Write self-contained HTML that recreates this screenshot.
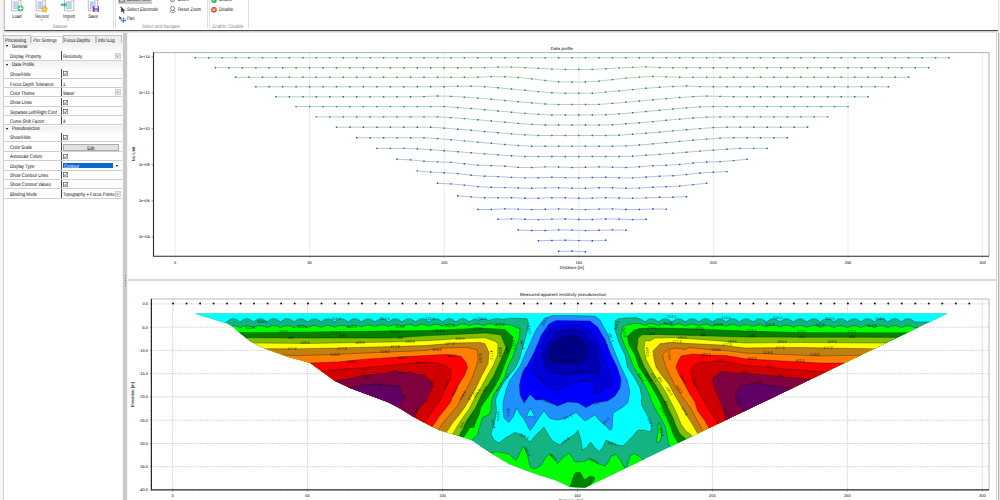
<!DOCTYPE html>
<html lang="en"><head><meta charset="utf-8"><title>Resistivity plot settings</title>
<style>
html,body{margin:0;padding:0;}
body{width:1000px;height:500px;overflow:hidden;position:relative;background:#f5f5f5;
 font-family:"Liberation Sans",sans-serif;color:#0a0a0a;text-rendering:geometricPrecision;}
.abs{position:absolute;}
#ribbon{position:absolute;left:3.5px;top:-2px;width:994px;height:33.2px;background:#fff;
 border-left:.6px solid #c6c6c6;border-bottom:1.4px solid #4e4e4e;box-sizing:border-box;
 box-shadow:0 1px 1.8px rgba(0,0,0,.22);}
.gsep{position:absolute;top:0;width:.7px;height:29.5px;background:#e2e2e2;}
.glabel{position:absolute;top:23.6px;height:6px;line-height:6px;font-size:5.2px;color:#8a8a8a;
 text-align:center;white-space:nowrap;transform:scaleX(.82);transform-origin:50% 50%;}
.blabel{position:absolute;font-size:5.2px;line-height:6px;height:6px;color:#151515;white-space:nowrap;
 transform:scaleX(.82);transform-origin:0 50%;}
.big{text-align:center;width:30px;transform-origin:50% 50%;}
#left{position:absolute;left:3.2px;top:33px;width:119.3px;height:470px;background:#fff;
 border-left:.6px solid #cfcfcf;box-sizing:border-box;}
.tab{position:absolute;top:35.4px;height:7.2px;box-sizing:border-box;border:.6px solid #c2c2c2;
 border-bottom:none;background:#eeeeee;font-size:5.2px;line-height:8.8px;padding-left:.9px;
 white-space:nowrap;overflow:hidden;color:#0a0a0a;}
.tab.act{background:#fff;border-color:#d0d0d0;top:35.8px;}
.tab span{position:absolute;left:.9px;line-height:6px;height:6px;transform:scaleX(.82);transform-origin:0 50%;}
.hdr{position:absolute;left:3.8px;width:118.4px;background:linear-gradient(#f1f1f1,#fbfbfb);
 font-size:5.2px;line-height:7px;color:#0a0a0a;white-space:nowrap;}
.hdr i{position:absolute;left:2.4px;top:2.3px;width:0;height:0;border-left:1.8px solid transparent;
 border-right:1.8px solid transparent;border-top:2.5px solid #000;}
.hdr span{position:absolute;left:8.4px;top:0;line-height:6px;height:6px;transform:scaleX(.82);transform-origin:0 50%;}
.row{position:absolute;left:3.8px;width:118.4px;box-sizing:border-box;border-bottom:.6px solid #cfcfcf;
 font-size:5.2px;color:#0a0a0a;white-space:nowrap;}
.row .k{position:absolute;left:6.4px;top:0;line-height:6px;height:6px;transform:scaleX(.82);transform-origin:0 50%;}
.row .v{position:absolute;left:58.8px;top:0;line-height:6px;height:6px;transform:scaleX(.82);transform-origin:0 50%;}
.row .d{position:absolute;left:57.1px;top:0;width:.6px;height:100%;background:#4a4a4a;}
.cb{position:absolute;left:59.3px;width:5.2px;height:5.2px;}
.cb svg{position:absolute;left:0;top:0;display:block;}
.dd{position:absolute;left:111.2px;width:5.6px;height:6.2px;}
.dd svg{position:absolute;left:0;top:0;display:block;}
#vsplit{position:absolute;left:123.4px;top:33px;width:4.1px;height:470px;background:#c9c9c9;}
#plots{position:absolute;left:127.5px;top:32.6px;width:868.8px;height:470px;background:#fff;}
#hsplit{position:absolute;left:127.5px;top:279.1px;width:868.8px;height:1.6px;background:#d6d6d6;}
#rstrip{position:absolute;left:996.2px;top:32.6px;width:3.5px;height:470px;background:linear-gradient(90deg,#d4d4d4 0 .6px,#fff .6px 1.6px,#b2b2b2 1.6px 3.4px,#e6e6e6 3.4px);}
svg text{font-family:"Liberation Sans",sans-serif;text-rendering:geometricPrecision;}
#app{position:absolute;left:0;top:0;width:1000px;height:500px;overflow:hidden;}
</style></head><body><div id="app">
<div id="ribbon">
<div class="gsep" style="left:108.9px"></div>
<div class="gsep" style="left:110.9px"></div>
<div class="gsep" style="left:202.4px"></div>
<div class="gsep" style="left:204.4px"></div>
<div class="gsep" style="left:243.4px"></div>
<div class="blabel big" style="left:-2.1px;top:16.2px">Load</div>
<div class="blabel big" style="left:22.4px;top:16.2px">Recent</div>
<div class="blabel big" style="left:49.9px;top:16.2px">Import</div>
<div class="blabel big" style="left:73.4px;top:16.2px">Save</div>
<div class="glabel" style="left:40.4px;width:30px;top:26.2px">Dataset</div>
<div class="glabel" style="left:131.9px;width:50px;top:26.2px">Select and Navigate</div>
<div class="glabel" style="left:203.9px;width:40px;top:26.2px">Enable / Disable</div>
<div class="abs" style="left:113.9px;top:0;width:34px;height:5.9px;background:#c9c9c9"></div>
<div class="blabel" style="left:122.3px;top:-0.8px">Select Point</div>
<div class="blabel" style="left:122.3px;top:9.2px">Select Electrode</div>
<div class="blabel" style="left:122.4px;top:18.2px">Pan</div>
<div class="blabel" style="left:173.4px;top:-0.8px">Zoom</div>
<div class="blabel" style="left:173.4px;top:9.2px">Reset Zoom</div>
<div class="blabel" style="left:214.9px;top:-0.8px">Enable</div>
<div class="blabel" style="left:214.9px;top:9.2px">Disable</div>
</div>
<svg class="abs" style="left:0;top:0" width="260" height="31" viewBox="0 0 260 31">
<g transform="translate(11.4 0.2)"><path d="M0.3 -3 H6.6 L9.6 0 V10.6 H0.3 Z" fill="#fdfdfd" stroke="#8a8a8a" stroke-width=".55"/><path d="M6.6 -3 V0 H9.6" fill="none" stroke="#8a8a8a" stroke-width=".5"/><rect x="1.9" y="1.2" width="5.6" height="7.6" fill="#a9c4ea"/><path d="M1.9 3.1H7.5M1.9 5H7.5M1.9 6.9H7.5M3.8 1.2V8.8M5.6 1.2V8.8" stroke="#dfe9f7" stroke-width=".45"/></g>
<circle cx="20.6" cy="8.4" r="2.9" fill="#27b868"/><path d="M20.6 6.3V10.5M18.5 8.4H22.7" stroke="#eafff2" stroke-width="1.2"/>
<g transform="translate(35.8 0.2)"><path d="M0.3 -3 H6.6 L9.6 0 V10.6 H0.3 Z" fill="#fdfdfd" stroke="#8a8a8a" stroke-width=".55"/><path d="M6.6 -3 V0 H9.6" fill="none" stroke="#8a8a8a" stroke-width=".5"/><rect x="1.9" y="1.2" width="5.6" height="7.6" fill="#a9c4ea"/><path d="M1.9 3.1H7.5M1.9 5H7.5M1.9 6.9H7.5M3.8 1.2V8.8M5.6 1.2V8.8" stroke="#dfe9f7" stroke-width=".45"/></g>
<path d="M44.6 5.9l.95 2 2.15.3-1.55 1.5.4 2.15-1.95-1.05-1.95 1.05.4-2.15-1.55-1.5 2.15-.3z" fill="#f5dc1c" stroke="#e2701e" stroke-width=".6"/>
<g transform="translate(64.2 0.2)"><path d="M0.3 -3 H6.6 L9.6 0 V10.6 H0.3 Z" fill="#fdfdfd" stroke="#8a8a8a" stroke-width=".55"/><path d="M6.6 -3 V0 H9.6" fill="none" stroke="#8a8a8a" stroke-width=".5"/><rect x="1.9" y="1.2" width="5.6" height="7.6" fill="#a9c4ea"/><path d="M1.9 3.1H7.5M1.9 5H7.5M1.9 6.9H7.5M3.8 1.2V8.8M5.6 1.2V8.8" stroke="#dfe9f7" stroke-width=".45"/></g>
<path d="M60.8 3.8h3.4v-1.5l2.9 2.5-2.9 2.5v-1.5h-3.4z" fill="#2cc070"/>
<g transform="translate(88 0.2)"><path d="M0.3 -3 H6.6 L9.6 0 V10.6 H0.3 Z" fill="#fdfdfd" stroke="#8a8a8a" stroke-width=".55"/><path d="M6.6 -3 V0 H9.6" fill="none" stroke="#8a8a8a" stroke-width=".5"/><rect x="1.9" y="1.2" width="5.6" height="7.6" fill="#a9c4ea"/><path d="M1.9 3.1H7.5M1.9 5H7.5M1.9 6.9H7.5M3.8 1.2V8.8M5.6 1.2V8.8" stroke="#dfe9f7" stroke-width=".45"/></g>
<rect x="92.8" y="6.1" width="6.2" height="5.7" fill="#8a3fa6"/><rect x="94.4" y="6.2" width="3.4" height="2.2" fill="#f3eaf8"/><rect x="94.6" y="9.6" width="3" height="2.2" fill="#d9c4e6"/>
<path d="M40.4 19.4l1.1 1 1.1-1M66.6 19.4l1.1 1 1.1-1" fill="none" stroke="#555" stroke-width=".5"/>
<rect x="119.6" y="-2" width="4.6" height="4" fill="none" stroke="#444" stroke-width=".6"/>
<path d="M121 6.6l0 6 1.5-1.4 1.1 2.3 1-.5-1.1-2.2 2-.1z" fill="#484848"/><circle cx="120.6" cy="7.2" r=".75" fill="#4a8fe0"/>
<path d="M119.2 16l0 3.6 1-.8.7 1.4.6-.3-.7-1.4 1.3-.1z" fill="#444"/><path d="M123.6 17.6l1.3 1.4h-.8v.9h.9v-.8l1.4 1.3-1.4 1.3v-.8h-.9v.9h.8l-1.3 1.4-1.3-1.4h.8v-.9h-.9v.8l-1.4-1.3 1.4-1.3v.8h.9v-.9h-.8z" fill="#3d7fd6"/>
<circle cx="172.3" cy="-.2" r="2.2" fill="#fff" stroke="#555" stroke-width=".6"/><path d="M172.3 -1.4V1M171.1 -.2H173.5" stroke="#555" stroke-width=".5"/>
<circle cx="172.6" cy="8.4" r="2" fill="#fff" stroke="#444" stroke-width=".65"/><path d="M171.3 10.2l-1.5 2.2M173.9 10.2l1.5 2.2M171.4 12.3h2.6" stroke="#444" stroke-width=".65" fill="none"/>
<circle cx="214" cy=".2" r="2.7" fill="#2fae62"/><path d="M212.7 .1l.9 1 1.7-1.9" stroke="#fff" stroke-width=".7" fill="none"/>
<circle cx="214" cy="9.7" r="2.8" fill="#d8482a"/><path d="M212.7 8.4l2.6 2.6M215.3 8.4l-2.6 2.6" stroke="#fff" stroke-width=".9"/>
</svg>
<div id="left"></div>
<div class="tab" style="left:3.2px;width:28px"><span style="top:1.2px">Processing</span></div>
<div class="tab act" style="left:31.2px;width:31.4px"><span style="top:0.8px">Plot Settings</span></div>
<div class="tab" style="left:62.6px;width:33.6px"><span style="top:1.2px">Focus Depths</span></div>
<div class="tab" style="left:96.2px;width:26.2px"><span style="top:1.2px">Info \Log</span></div>
<div class="hdr" style="top:43px;height:8.2px"><i></i><span style="top:1.2px">General</span></div>
<div class="row" style="top:51.2px;height:10.2px"><span class="k" style="top:3px">Display Property</span><span class="d"></span><span class="v" style="top:3px">Resistivity</span><span class="dd" style="top:1.7px"><svg width="5.6" height="6.2" viewBox="0 0 5.6 6.2"><rect x=".3" y=".3" width="5" height="5.6" fill="#e9e9e9" stroke="#b0b0b0" stroke-width=".5"/><path d="M1.5 2.5l1.3 1.3 1.3-1.3" fill="none" stroke="#5c5c5c" stroke-width=".6"/></svg></span></div>
<div class="hdr" style="top:61.4px;height:7.6px"><i></i><span style="top:0.8px">Data Profile</span></div>
<div class="row" style="top:69px;height:9.9px"><span class="k" style="top:3.2px">Show/Hide</span><span class="d"></span><span class="cb" style="top:2.25px"><svg width="5.2" height="5.2" viewBox="0 0 5.2 5.2"><rect x=".35" y=".35" width="4.5" height="4.5" fill="#fff" stroke="#4c4c4c" stroke-width=".65"/><path d="M1.1 2.6l1.05 1.15 2-2.4" fill="none" stroke="#222" stroke-width=".7"/></svg></span></div>
<div class="row" style="top:78.9px;height:9.2px"><span class="k" style="top:3.3px">Focus Depth Tolerance</span><span class="d"></span><span class="v" style="top:3.3px">1</span></div>
<div class="row" style="top:88.1px;height:9.4px"><span class="k" style="top:3.1px">Color Theme</span><span class="d"></span><span class="v" style="top:3.1px">Water</span><span class="dd" style="top:1.3px"><svg width="5.6" height="6.2" viewBox="0 0 5.6 6.2"><rect x=".3" y=".3" width="5" height="5.6" fill="#e9e9e9" stroke="#b0b0b0" stroke-width=".5"/><path d="M1.5 2.5l1.3 1.3 1.3-1.3" fill="none" stroke="#5c5c5c" stroke-width=".6"/></svg></span></div>
<div class="row" style="top:97.5px;height:9.4px"><span class="k" style="top:2.7px">Show Lines</span><span class="d"></span><span class="cb" style="top:2px"><svg width="5.2" height="5.2" viewBox="0 0 5.2 5.2"><rect x=".35" y=".35" width="4.5" height="4.5" fill="#fff" stroke="#4c4c4c" stroke-width=".65"/><path d="M1.1 2.6l1.05 1.15 2-2.4" fill="none" stroke="#222" stroke-width=".7"/></svg></span></div>
<div class="row" style="top:106.9px;height:9.5px"><span class="k" style="top:3.3px">Separate Left/Right Conf</span><span class="d"></span><span class="cb" style="top:2.05px"><svg width="5.2" height="5.2" viewBox="0 0 5.2 5.2"><rect x=".35" y=".35" width="4.5" height="4.5" fill="#fff" stroke="#4c4c4c" stroke-width=".65"/><path d="M1.1 2.6l1.05 1.15 2-2.4" fill="none" stroke="#222" stroke-width=".7"/></svg></span></div>
<div class="row" style="top:116.4px;height:9.1px"><span class="k" style="top:2.8px">Curve Shift Factor</span><span class="d"></span><span class="v" style="top:2.8px">4</span></div>
<div class="hdr" style="top:125.5px;height:7.3px"><i></i><span style="top:0.7px">Pseudosection</span></div>
<div class="row" style="top:132.8px;height:9.6px"><span class="k" style="top:2.4px">Show/Hide</span><span class="d"></span><span class="cb" style="top:2.1px"><svg width="5.2" height="5.2" viewBox="0 0 5.2 5.2"><rect x=".35" y=".35" width="4.5" height="4.5" fill="#fff" stroke="#4c4c4c" stroke-width=".65"/><path d="M1.1 2.6l1.05 1.15 2-2.4" fill="none" stroke="#222" stroke-width=".7"/></svg></span></div>
<div class="row" style="top:142.4px;height:9.4px"><span class="k" style="top:2.8px">Color Scale</span><span class="d"></span><span class="abs" style="left:59.5px;top:1.6px;width:55.7px;height:6.6px;box-sizing:border-box;border:.5px solid #adadad;background:#e1e1e1;text-align:center"><span style="position:absolute;left:0;width:100%;top:0.7px;line-height:6px;height:6px;transform:scaleX(.82)">Edit</span></span></div>
<div class="row" style="top:151.8px;height:9.5px"><span class="k" style="top:2.4px">Autoscale Colors</span><span class="d"></span><span class="cb" style="top:2.05px"><svg width="5.2" height="5.2" viewBox="0 0 5.2 5.2"><rect x=".35" y=".35" width="4.5" height="4.5" fill="#fff" stroke="#4c4c4c" stroke-width=".65"/><path d="M1.1 2.6l1.05 1.15 2-2.4" fill="none" stroke="#222" stroke-width=".7"/></svg></span></div>
<div class="row" style="top:161.3px;height:9.3px"><span class="k" style="top:2.9px">Display Type</span><span class="d"></span><span class="abs" style="left:59.5px;top:1.7px;width:49.8px;height:5.4px;background:#0b66d8;color:#fff"><span style="position:absolute;left:1.2px;top:1.2px;line-height:6px;height:6px;transform:scaleX(.82);transform-origin:0 50%">Contour</span></span><span class="abs" style="left:112.2px;top:3.3px;width:0;height:0;border-left:1.7px solid transparent;border-right:1.7px solid transparent;border-top:2.2px solid #000"></span></div>
<div class="row" style="top:170.6px;height:9.2px"><span class="k" style="top:2.6px">Show Contour Lines</span><span class="d"></span><span class="cb" style="top:1.9px"><svg width="5.2" height="5.2" viewBox="0 0 5.2 5.2"><rect x=".35" y=".35" width="4.5" height="4.5" fill="#fff" stroke="#4c4c4c" stroke-width=".65"/><path d="M1.1 2.6l1.05 1.15 2-2.4" fill="none" stroke="#222" stroke-width=".7"/></svg></span></div>
<div class="row" style="top:179.8px;height:9.4px"><span class="k" style="top:2.4px">Show Contour Values</span><span class="d"></span><span class="cb" style="top:2px"><svg width="5.2" height="5.2" viewBox="0 0 5.2 5.2"><rect x=".35" y=".35" width="4.5" height="4.5" fill="#fff" stroke="#4c4c4c" stroke-width=".65"/><path d="M1.1 2.6l1.05 1.15 2-2.4" fill="none" stroke="#222" stroke-width=".7"/></svg></span></div>
<div class="row" style="top:189.2px;height:9.5px"><span class="k" style="top:3px">Blinding Mode</span><span class="d"></span><span class="v" style="top:3px">Topography + Focus Points</span><span class="dd" style="top:1.35px"><svg width="5.6" height="6.2" viewBox="0 0 5.6 6.2"><rect x=".3" y=".3" width="5" height="5.6" fill="#e9e9e9" stroke="#b0b0b0" stroke-width=".5"/><path d="M1.5 2.5l1.3 1.3 1.3-1.3" fill="none" stroke="#5c5c5c" stroke-width=".6"/></svg></span></div>
<div id="vsplit"></div>
<div class="abs" style="left:124.9px;top:275px;width:1px;height:13px;background:repeating-linear-gradient(#8a8a8a 0 1px,transparent 1px 2.6px)"></div>
<div id="plots"></div><div id="hsplit"></div><div id="rstrip"></div>
<svg class="abs" style="left:0;top:0" width="1000" height="500" viewBox="0 0 1000 500">
<line x1="175" y1="52.6" x2="175" y2="256.2" stroke="#e3e3e3" stroke-width=".7"/>
<line x1="309.6" y1="52.6" x2="309.6" y2="256.2" stroke="#e3e3e3" stroke-width=".7"/>
<line x1="444.2" y1="52.6" x2="444.2" y2="256.2" stroke="#e3e3e3" stroke-width=".7"/>
<line x1="578.8" y1="52.6" x2="578.8" y2="256.2" stroke="#e3e3e3" stroke-width=".7"/>
<line x1="713.4" y1="52.6" x2="713.4" y2="256.2" stroke="#e3e3e3" stroke-width=".7"/>
<line x1="848" y1="52.6" x2="848" y2="256.2" stroke="#e3e3e3" stroke-width=".7"/>
<line x1="982.6" y1="52.6" x2="982.6" y2="256.2" stroke="#e3e3e3" stroke-width=".7"/>
<polyline points="195.2,57.7 208.7,57.7 222.1,57.7 235.6,57.7 249.0,57.7 262.5,57.7 275.9,57.7 289.4,57.7 302.9,57.7 316.3,57.7 329.8,57.7 343.2,57.7 356.7,57.7 370.2,57.7 383.6,57.7 397.1,57.7 410.6,57.7 424.0,57.7 437.5,57.7 450.9,57.7 464.4,57.7 477.9,57.7 491.3,57.7 504.8,57.7 518.2,57.7 531.7,57.7 545.2,57.7 558.6,57.7 572.1,57.7 585.5,57.7 599.0,57.7 612.5,57.7 625.9,57.7 639.4,57.7 652.8,57.7 666.3,57.7 679.8,57.7 693.2,57.7 706.7,57.7 720.1,57.7 733.6,57.7 747.1,57.7 760.5,57.7 774.0,57.7 787.4,57.7 800.9,57.7 814.4,57.7 827.8,57.7 841.3,57.7 854.7,57.7 868.2,57.7 881.7,57.7 895.1,57.7 908.6,57.7 922.0,57.7 935.5,57.7 949.0,57.7" fill="none" stroke="#3aa042" stroke-width=".65" stroke-opacity=".6"/>
<path d="M194.5 57.0h1.4v1.4h-1.4zM208.0 57.0h1.4v1.4h-1.4zM221.4 57.0h1.4v1.4h-1.4zM234.9 57.0h1.4v1.4h-1.4zM248.3 57.0h1.4v1.4h-1.4zM261.8 57.0h1.4v1.4h-1.4zM275.2 57.0h1.4v1.4h-1.4zM288.7 57.0h1.4v1.4h-1.4zM302.2 57.0h1.4v1.4h-1.4zM315.6 57.0h1.4v1.4h-1.4zM329.1 57.0h1.4v1.4h-1.4zM342.6 57.0h1.4v1.4h-1.4zM356.0 57.0h1.4v1.4h-1.4zM369.5 57.0h1.4v1.4h-1.4zM382.9 57.0h1.4v1.4h-1.4zM396.4 57.0h1.4v1.4h-1.4zM409.9 57.0h1.4v1.4h-1.4zM423.3 57.0h1.4v1.4h-1.4zM436.8 57.0h1.4v1.4h-1.4zM450.2 57.0h1.4v1.4h-1.4zM463.7 57.0h1.4v1.4h-1.4zM477.2 57.0h1.4v1.4h-1.4zM490.6 57.0h1.4v1.4h-1.4zM504.1 57.0h1.4v1.4h-1.4zM517.5 57.0h1.4v1.4h-1.4zM531.0 57.0h1.4v1.4h-1.4zM544.5 57.0h1.4v1.4h-1.4zM557.9 57.0h1.4v1.4h-1.4zM571.4 57.0h1.4v1.4h-1.4zM584.8 57.0h1.4v1.4h-1.4zM598.3 57.0h1.4v1.4h-1.4zM611.8 57.0h1.4v1.4h-1.4zM625.2 57.0h1.4v1.4h-1.4zM638.7 57.0h1.4v1.4h-1.4zM652.1 57.0h1.4v1.4h-1.4zM665.6 57.0h1.4v1.4h-1.4zM679.0 57.0h1.4v1.4h-1.4zM692.5 57.0h1.4v1.4h-1.4zM706.0 57.0h1.4v1.4h-1.4zM719.4 57.0h1.4v1.4h-1.4zM732.9 57.0h1.4v1.4h-1.4zM746.4 57.0h1.4v1.4h-1.4zM759.8 57.0h1.4v1.4h-1.4zM773.3 57.0h1.4v1.4h-1.4zM786.7 57.0h1.4v1.4h-1.4zM800.2 57.0h1.4v1.4h-1.4zM813.6 57.0h1.4v1.4h-1.4zM827.1 57.0h1.4v1.4h-1.4zM840.6 57.0h1.4v1.4h-1.4zM854.0 57.0h1.4v1.4h-1.4zM867.5 57.0h1.4v1.4h-1.4zM881.0 57.0h1.4v1.4h-1.4zM894.4 57.0h1.4v1.4h-1.4zM907.9 57.0h1.4v1.4h-1.4zM921.3 57.0h1.4v1.4h-1.4zM934.8 57.0h1.4v1.4h-1.4zM948.2 57.0h1.4v1.4h-1.4z" fill="#2f8336"/>
<polyline points="215.4,67.7 228.8,67.7 242.3,67.7 255.8,67.7 269.2,67.7 282.7,67.7 296.1,67.7 309.6,67.7 323.1,67.7 336.5,67.7 350.0,67.7 363.4,67.7 376.9,67.7 390.4,67.7 403.8,67.7 417.3,67.7 430.7,67.7 444.2,67.7 457.7,67.7 471.1,67.7 484.6,67.6 498.0,67.1 511.5,67.1 525.0,67.6 538.4,68.3 551.9,69.1 565.3,69.5 578.8,69.5 592.3,69.4 605.7,68.7 619.2,67.9 632.6,67.4 646.1,66.9 659.6,67.5 673.0,67.7 686.5,67.7 699.9,67.7 713.4,67.7 726.9,67.7 740.3,67.7 753.8,67.7 767.2,67.7 780.7,67.7 794.2,67.7 807.6,67.7 821.1,67.7 834.5,67.7 848.0,67.7 861.5,67.7 874.9,67.7 888.4,67.7 901.8,67.7 915.3,67.7 928.8,67.7" fill="none" stroke="#399b4b" stroke-width=".65" stroke-opacity=".6"/>
<path d="M214.7 67.0h1.4v1.4h-1.4zM228.1 67.0h1.4v1.4h-1.4zM241.6 67.0h1.4v1.4h-1.4zM255.1 67.0h1.4v1.4h-1.4zM268.5 67.0h1.4v1.4h-1.4zM282.0 67.0h1.4v1.4h-1.4zM295.4 67.0h1.4v1.4h-1.4zM308.9 67.0h1.4v1.4h-1.4zM322.4 67.0h1.4v1.4h-1.4zM335.8 67.0h1.4v1.4h-1.4zM349.3 67.0h1.4v1.4h-1.4zM362.7 67.0h1.4v1.4h-1.4zM376.2 67.0h1.4v1.4h-1.4zM389.7 67.0h1.4v1.4h-1.4zM403.1 67.0h1.4v1.4h-1.4zM416.6 67.0h1.4v1.4h-1.4zM430.0 67.0h1.4v1.4h-1.4zM443.5 67.0h1.4v1.4h-1.4zM457.0 67.0h1.4v1.4h-1.4zM470.4 67.0h1.4v1.4h-1.4zM483.9 66.9h1.4v1.4h-1.4zM497.3 66.4h1.4v1.4h-1.4zM510.8 66.4h1.4v1.4h-1.4zM524.3 66.9h1.4v1.4h-1.4zM537.7 67.6h1.4v1.4h-1.4zM551.2 68.4h1.4v1.4h-1.4zM564.6 68.8h1.4v1.4h-1.4zM578.1 68.8h1.4v1.4h-1.4zM591.6 68.7h1.4v1.4h-1.4zM605.0 68.0h1.4v1.4h-1.4zM618.5 67.2h1.4v1.4h-1.4zM631.9 66.7h1.4v1.4h-1.4zM645.4 66.2h1.4v1.4h-1.4zM658.9 66.8h1.4v1.4h-1.4zM672.3 67.0h1.4v1.4h-1.4zM685.8 67.0h1.4v1.4h-1.4zM699.2 67.0h1.4v1.4h-1.4zM712.7 67.0h1.4v1.4h-1.4zM726.2 67.0h1.4v1.4h-1.4zM739.6 67.0h1.4v1.4h-1.4zM753.1 67.0h1.4v1.4h-1.4zM766.5 67.0h1.4v1.4h-1.4zM780.0 67.0h1.4v1.4h-1.4zM793.5 67.0h1.4v1.4h-1.4zM806.9 67.0h1.4v1.4h-1.4zM820.4 67.0h1.4v1.4h-1.4zM833.8 67.0h1.4v1.4h-1.4zM847.3 67.0h1.4v1.4h-1.4zM860.8 67.0h1.4v1.4h-1.4zM874.2 67.0h1.4v1.4h-1.4zM887.7 67.0h1.4v1.4h-1.4zM901.1 67.0h1.4v1.4h-1.4zM914.6 67.0h1.4v1.4h-1.4zM928.1 67.0h1.4v1.4h-1.4z" fill="#2e7f3d"/>
<polyline points="235.6,77.3 249.0,77.3 262.5,77.3 275.9,77.3 289.4,77.3 302.9,77.3 316.3,77.3 329.8,77.3 343.2,77.3 356.7,77.3 370.2,77.3 383.6,77.3 397.1,77.3 410.6,77.3 424.0,77.3 437.5,77.3 450.9,77.3 464.4,77.3 477.9,77.2 491.3,76.6 504.8,76.8 518.2,77.5 531.7,78.9 545.2,80.5 558.6,81.8 572.1,82.0 585.5,82.0 599.0,81.1 612.5,79.6 625.9,78.1 639.4,77.1 652.8,76.5 666.3,76.9 679.8,77.3 693.2,77.3 706.7,77.3 720.1,77.3 733.6,77.3 747.1,77.3 760.5,77.3 774.0,77.3 787.4,77.3 800.9,77.3 814.4,77.3 827.8,77.3 841.3,77.3 854.7,77.3 868.2,77.3 881.7,77.3 895.1,77.3 908.6,77.3" fill="none" stroke="#389654" stroke-width=".65" stroke-opacity=".6"/>
<path d="M234.9 76.6h1.4v1.4h-1.4zM248.3 76.6h1.4v1.4h-1.4zM261.8 76.6h1.4v1.4h-1.4zM275.2 76.6h1.4v1.4h-1.4zM288.7 76.6h1.4v1.4h-1.4zM302.2 76.6h1.4v1.4h-1.4zM315.6 76.6h1.4v1.4h-1.4zM329.1 76.6h1.4v1.4h-1.4zM342.6 76.6h1.4v1.4h-1.4zM356.0 76.6h1.4v1.4h-1.4zM369.5 76.6h1.4v1.4h-1.4zM382.9 76.6h1.4v1.4h-1.4zM396.4 76.6h1.4v1.4h-1.4zM409.9 76.6h1.4v1.4h-1.4zM423.3 76.6h1.4v1.4h-1.4zM436.8 76.6h1.4v1.4h-1.4zM450.2 76.6h1.4v1.4h-1.4zM463.7 76.6h1.4v1.4h-1.4zM477.2 76.5h1.4v1.4h-1.4zM490.6 75.9h1.4v1.4h-1.4zM504.1 76.1h1.4v1.4h-1.4zM517.5 76.8h1.4v1.4h-1.4zM531.0 78.2h1.4v1.4h-1.4zM544.5 79.8h1.4v1.4h-1.4zM557.9 81.1h1.4v1.4h-1.4zM571.4 81.3h1.4v1.4h-1.4zM584.8 81.3h1.4v1.4h-1.4zM598.3 80.4h1.4v1.4h-1.4zM611.8 78.9h1.4v1.4h-1.4zM625.2 77.4h1.4v1.4h-1.4zM638.7 76.4h1.4v1.4h-1.4zM652.1 75.8h1.4v1.4h-1.4zM665.6 76.2h1.4v1.4h-1.4zM679.0 76.6h1.4v1.4h-1.4zM692.5 76.6h1.4v1.4h-1.4zM706.0 76.6h1.4v1.4h-1.4zM719.4 76.6h1.4v1.4h-1.4zM732.9 76.6h1.4v1.4h-1.4zM746.4 76.6h1.4v1.4h-1.4zM759.8 76.6h1.4v1.4h-1.4zM773.3 76.6h1.4v1.4h-1.4zM786.7 76.6h1.4v1.4h-1.4zM800.2 76.6h1.4v1.4h-1.4zM813.6 76.6h1.4v1.4h-1.4zM827.1 76.6h1.4v1.4h-1.4zM840.6 76.6h1.4v1.4h-1.4zM854.0 76.6h1.4v1.4h-1.4zM867.5 76.6h1.4v1.4h-1.4zM881.0 76.6h1.4v1.4h-1.4zM894.4 76.6h1.4v1.4h-1.4zM907.9 76.6h1.4v1.4h-1.4z" fill="#2d7a44"/>
<polyline points="255.8,86.8 269.2,86.8 282.7,86.8 296.1,86.8 309.6,86.8 323.1,86.8 336.5,86.8 350.0,86.8 363.4,86.8 376.9,86.8 390.4,86.8 403.8,86.8 417.3,86.8 430.7,86.8 444.2,86.7 457.7,86.2 471.1,86.2 484.6,86.7 498.0,87.8 511.5,89.0 525.0,90.3 538.4,91.6 551.9,92.7 565.3,93.2 578.8,93.2 592.3,93.2 605.7,92.1 619.2,90.9 632.6,89.6 646.1,88.3 659.6,87.2 673.0,86.5 686.5,86.0 699.9,86.6 713.4,86.8 726.9,86.8 740.3,86.8 753.8,86.8 767.2,86.8 780.7,86.8 794.2,86.8 807.6,86.8 821.1,86.8 834.5,86.8 848.0,86.8 861.5,86.8 874.9,86.8 888.4,86.8" fill="none" stroke="#36915e" stroke-width=".65" stroke-opacity=".6"/>
<path d="M255.1 86.1h1.4v1.4h-1.4zM268.5 86.1h1.4v1.4h-1.4zM282.0 86.1h1.4v1.4h-1.4zM295.4 86.1h1.4v1.4h-1.4zM308.9 86.1h1.4v1.4h-1.4zM322.4 86.1h1.4v1.4h-1.4zM335.8 86.1h1.4v1.4h-1.4zM349.3 86.1h1.4v1.4h-1.4zM362.7 86.1h1.4v1.4h-1.4zM376.2 86.1h1.4v1.4h-1.4zM389.7 86.1h1.4v1.4h-1.4zM403.1 86.1h1.4v1.4h-1.4zM416.6 86.1h1.4v1.4h-1.4zM430.0 86.1h1.4v1.4h-1.4zM443.5 86.0h1.4v1.4h-1.4zM457.0 85.5h1.4v1.4h-1.4zM470.4 85.5h1.4v1.4h-1.4zM483.9 86.0h1.4v1.4h-1.4zM497.3 87.1h1.4v1.4h-1.4zM510.8 88.3h1.4v1.4h-1.4zM524.3 89.6h1.4v1.4h-1.4zM537.7 90.9h1.4v1.4h-1.4zM551.2 92.0h1.4v1.4h-1.4zM564.6 92.5h1.4v1.4h-1.4zM578.1 92.5h1.4v1.4h-1.4zM591.6 92.5h1.4v1.4h-1.4zM605.0 91.4h1.4v1.4h-1.4zM618.5 90.2h1.4v1.4h-1.4zM631.9 88.9h1.4v1.4h-1.4zM645.4 87.6h1.4v1.4h-1.4zM658.9 86.5h1.4v1.4h-1.4zM672.3 85.8h1.4v1.4h-1.4zM685.8 85.3h1.4v1.4h-1.4zM699.2 85.9h1.4v1.4h-1.4zM712.7 86.1h1.4v1.4h-1.4zM726.2 86.1h1.4v1.4h-1.4zM739.6 86.1h1.4v1.4h-1.4zM753.1 86.1h1.4v1.4h-1.4zM766.5 86.1h1.4v1.4h-1.4zM780.0 86.1h1.4v1.4h-1.4zM793.5 86.1h1.4v1.4h-1.4zM806.9 86.1h1.4v1.4h-1.4zM820.4 86.1h1.4v1.4h-1.4zM833.8 86.1h1.4v1.4h-1.4zM847.3 86.1h1.4v1.4h-1.4zM860.8 86.1h1.4v1.4h-1.4zM874.2 86.1h1.4v1.4h-1.4zM887.7 86.1h1.4v1.4h-1.4z" fill="#2c764d"/>
<polyline points="275.9,96.8 289.4,96.8 302.9,96.8 316.3,96.8 329.8,96.8 343.2,96.8 356.7,96.8 370.2,96.8 383.6,96.8 397.1,96.8 410.6,96.8 424.0,96.6 437.5,96.0 450.9,96.4 464.4,97.1 477.9,98.1 491.3,99.2 504.8,100.5 518.2,101.7 531.7,102.9 545.2,104.0 558.6,104.5 572.1,104.5 585.5,104.5 599.0,104.4 612.5,103.4 625.9,102.3 639.4,101.0 652.8,99.8 666.3,98.6 679.8,97.5 693.2,96.6 706.7,96.1 720.1,96.4 733.6,96.8 747.1,96.8 760.5,96.8 774.0,96.8 787.4,96.8 800.9,96.8 814.4,96.8 827.8,96.8 841.3,96.8 854.7,96.8 868.2,96.8" fill="none" stroke="#358c67" stroke-width=".65" stroke-opacity=".6"/>
<path d="M275.2 96.1h1.4v1.4h-1.4zM288.7 96.1h1.4v1.4h-1.4zM302.2 96.1h1.4v1.4h-1.4zM315.6 96.1h1.4v1.4h-1.4zM329.1 96.1h1.4v1.4h-1.4zM342.6 96.1h1.4v1.4h-1.4zM356.0 96.1h1.4v1.4h-1.4zM369.5 96.1h1.4v1.4h-1.4zM382.9 96.1h1.4v1.4h-1.4zM396.4 96.1h1.4v1.4h-1.4zM409.9 96.1h1.4v1.4h-1.4zM423.3 95.9h1.4v1.4h-1.4zM436.8 95.3h1.4v1.4h-1.4zM450.2 95.7h1.4v1.4h-1.4zM463.7 96.4h1.4v1.4h-1.4zM477.2 97.4h1.4v1.4h-1.4zM490.6 98.5h1.4v1.4h-1.4zM504.1 99.8h1.4v1.4h-1.4zM517.5 101.0h1.4v1.4h-1.4zM531.0 102.2h1.4v1.4h-1.4zM544.5 103.3h1.4v1.4h-1.4zM557.9 103.8h1.4v1.4h-1.4zM571.4 103.8h1.4v1.4h-1.4zM584.8 103.8h1.4v1.4h-1.4zM598.3 103.7h1.4v1.4h-1.4zM611.8 102.7h1.4v1.4h-1.4zM625.2 101.6h1.4v1.4h-1.4zM638.7 100.3h1.4v1.4h-1.4zM652.1 99.1h1.4v1.4h-1.4zM665.6 97.9h1.4v1.4h-1.4zM679.0 96.8h1.4v1.4h-1.4zM692.5 95.9h1.4v1.4h-1.4zM706.0 95.4h1.4v1.4h-1.4zM719.4 95.7h1.4v1.4h-1.4zM732.9 96.1h1.4v1.4h-1.4zM746.4 96.1h1.4v1.4h-1.4zM759.8 96.1h1.4v1.4h-1.4zM773.3 96.1h1.4v1.4h-1.4zM786.7 96.1h1.4v1.4h-1.4zM800.2 96.1h1.4v1.4h-1.4zM813.6 96.1h1.4v1.4h-1.4zM827.1 96.1h1.4v1.4h-1.4zM840.6 96.1h1.4v1.4h-1.4zM854.0 96.1h1.4v1.4h-1.4zM867.5 96.1h1.4v1.4h-1.4z" fill="#2b7254"/>
<polyline points="296.1,106.6 309.6,106.6 323.1,106.6 336.5,106.6 350.0,106.6 363.4,106.6 376.9,106.6 390.4,106.6 403.8,106.6 417.3,106.6 430.7,106.6 444.2,106.6 457.7,107.5 471.1,108.5 484.6,109.7 498.0,111.0 511.5,112.2 525.0,113.4 538.4,114.4 551.9,115.0 565.3,115.0 578.8,115.0 592.3,115.0 605.7,114.8 619.2,113.9 632.6,112.8 646.1,111.5 659.6,110.3 673.0,109.0 686.5,107.9 699.9,106.9 713.4,106.6 726.9,106.6 740.3,106.6 753.8,106.6 767.2,106.6 780.7,106.6 794.2,106.6 807.6,106.6 821.1,106.6 834.5,106.6 848.0,106.6" fill="none" stroke="#348870" stroke-width=".65" stroke-opacity=".6"/>
<path d="M295.4 105.9h1.4v1.4h-1.4zM308.9 105.9h1.4v1.4h-1.4zM322.4 105.9h1.4v1.4h-1.4zM335.8 105.9h1.4v1.4h-1.4zM349.3 105.9h1.4v1.4h-1.4zM362.7 105.9h1.4v1.4h-1.4zM376.2 105.9h1.4v1.4h-1.4zM389.7 105.9h1.4v1.4h-1.4zM403.1 105.9h1.4v1.4h-1.4zM416.6 105.9h1.4v1.4h-1.4zM430.0 105.9h1.4v1.4h-1.4zM443.5 105.9h1.4v1.4h-1.4zM457.0 106.8h1.4v1.4h-1.4zM470.4 107.8h1.4v1.4h-1.4zM483.9 109.0h1.4v1.4h-1.4zM497.3 110.3h1.4v1.4h-1.4zM510.8 111.5h1.4v1.4h-1.4zM524.3 112.7h1.4v1.4h-1.4zM537.7 113.7h1.4v1.4h-1.4zM551.2 114.3h1.4v1.4h-1.4zM564.6 114.3h1.4v1.4h-1.4zM578.1 114.3h1.4v1.4h-1.4zM591.6 114.3h1.4v1.4h-1.4zM605.0 114.1h1.4v1.4h-1.4zM618.5 113.2h1.4v1.4h-1.4zM631.9 112.1h1.4v1.4h-1.4zM645.4 110.8h1.4v1.4h-1.4zM658.9 109.6h1.4v1.4h-1.4zM672.3 108.3h1.4v1.4h-1.4zM685.8 107.2h1.4v1.4h-1.4zM699.2 106.2h1.4v1.4h-1.4zM712.7 105.9h1.4v1.4h-1.4zM726.2 105.9h1.4v1.4h-1.4zM739.6 105.9h1.4v1.4h-1.4zM753.1 105.9h1.4v1.4h-1.4zM766.5 105.9h1.4v1.4h-1.4zM780.0 105.9h1.4v1.4h-1.4zM793.5 105.9h1.4v1.4h-1.4zM806.9 105.9h1.4v1.4h-1.4zM820.4 105.9h1.4v1.4h-1.4zM833.8 105.9h1.4v1.4h-1.4zM847.3 105.9h1.4v1.4h-1.4z" fill="#2a6f5b"/>
<polyline points="316.3,116.9 329.8,116.9 343.2,116.9 356.7,116.9 370.2,116.9 383.6,116.9 397.1,116.9 410.6,116.9 424.0,116.9 437.5,116.9 450.9,117.6 464.4,118.6 477.9,119.8 491.3,121.0 504.8,122.2 518.2,123.4 531.7,124.4 545.2,125.0 558.6,125.0 572.1,125.0 585.5,125.0 599.0,125.0 612.5,124.8 625.9,123.8 639.4,122.8 652.8,121.6 666.3,120.3 679.8,119.1 693.2,118.0 706.7,117.1 720.1,116.9 733.6,116.9 747.1,116.9 760.5,116.9 774.0,116.9 787.4,116.9 800.9,116.9 814.4,116.9 827.8,116.9" fill="none" stroke="#338379" stroke-width=".65" stroke-opacity=".6"/>
<path d="M315.6 116.2h1.4v1.4h-1.4zM329.1 116.2h1.4v1.4h-1.4zM342.6 116.2h1.4v1.4h-1.4zM356.0 116.2h1.4v1.4h-1.4zM369.5 116.2h1.4v1.4h-1.4zM382.9 116.2h1.4v1.4h-1.4zM396.4 116.2h1.4v1.4h-1.4zM409.9 116.2h1.4v1.4h-1.4zM423.3 116.2h1.4v1.4h-1.4zM436.8 116.2h1.4v1.4h-1.4zM450.2 116.9h1.4v1.4h-1.4zM463.7 117.9h1.4v1.4h-1.4zM477.2 119.1h1.4v1.4h-1.4zM490.6 120.3h1.4v1.4h-1.4zM504.1 121.5h1.4v1.4h-1.4zM517.5 122.7h1.4v1.4h-1.4zM531.0 123.7h1.4v1.4h-1.4zM544.5 124.3h1.4v1.4h-1.4zM557.9 124.3h1.4v1.4h-1.4zM571.4 124.3h1.4v1.4h-1.4zM584.8 124.3h1.4v1.4h-1.4zM598.3 124.3h1.4v1.4h-1.4zM611.8 124.1h1.4v1.4h-1.4zM625.2 123.1h1.4v1.4h-1.4zM638.7 122.1h1.4v1.4h-1.4zM652.1 120.9h1.4v1.4h-1.4zM665.6 119.6h1.4v1.4h-1.4zM679.0 118.4h1.4v1.4h-1.4zM692.5 117.3h1.4v1.4h-1.4zM706.0 116.4h1.4v1.4h-1.4zM719.4 116.2h1.4v1.4h-1.4zM732.9 116.2h1.4v1.4h-1.4zM746.4 116.2h1.4v1.4h-1.4zM759.8 116.2h1.4v1.4h-1.4zM773.3 116.2h1.4v1.4h-1.4zM786.7 116.2h1.4v1.4h-1.4zM800.2 116.2h1.4v1.4h-1.4zM813.6 116.2h1.4v1.4h-1.4zM827.1 116.2h1.4v1.4h-1.4z" fill="#296b63"/>
<polyline points="336.5,127.2 350.0,127.2 363.4,127.2 376.9,127.2 390.4,127.2 403.8,127.2 417.3,127.2 430.7,127.2 444.2,128.1 457.7,129.2 471.1,130.3 484.6,131.5 498.0,132.7 511.5,133.9 525.0,134.9 538.4,135.5 551.9,135.5 565.3,135.5 578.8,135.5 592.3,135.5 605.7,135.5 619.2,135.2 632.6,134.3 646.1,133.2 659.6,132.1 673.0,130.9 686.5,129.7 699.9,128.6 713.4,127.6 726.9,127.2 740.3,127.2 753.8,127.2 767.2,127.2 780.7,127.2 794.2,127.2 807.6,127.2" fill="none" stroke="#317e83" stroke-width=".65" stroke-opacity=".6"/>
<path d="M335.8 126.5h1.4v1.4h-1.4zM349.3 126.5h1.4v1.4h-1.4zM362.7 126.5h1.4v1.4h-1.4zM376.2 126.5h1.4v1.4h-1.4zM389.7 126.5h1.4v1.4h-1.4zM403.1 126.5h1.4v1.4h-1.4zM416.6 126.5h1.4v1.4h-1.4zM430.0 126.5h1.4v1.4h-1.4zM443.5 127.4h1.4v1.4h-1.4zM457.0 128.5h1.4v1.4h-1.4zM470.4 129.6h1.4v1.4h-1.4zM483.9 130.8h1.4v1.4h-1.4zM497.3 132.0h1.4v1.4h-1.4zM510.8 133.2h1.4v1.4h-1.4zM524.3 134.2h1.4v1.4h-1.4zM537.7 134.8h1.4v1.4h-1.4zM551.2 134.8h1.4v1.4h-1.4zM564.6 134.8h1.4v1.4h-1.4zM578.1 134.8h1.4v1.4h-1.4zM591.6 134.8h1.4v1.4h-1.4zM605.0 134.8h1.4v1.4h-1.4zM618.5 134.5h1.4v1.4h-1.4zM631.9 133.6h1.4v1.4h-1.4zM645.4 132.5h1.4v1.4h-1.4zM658.9 131.4h1.4v1.4h-1.4zM672.3 130.2h1.4v1.4h-1.4zM685.8 129.0h1.4v1.4h-1.4zM699.2 127.9h1.4v1.4h-1.4zM712.7 126.9h1.4v1.4h-1.4zM726.2 126.5h1.4v1.4h-1.4zM739.6 126.5h1.4v1.4h-1.4zM753.1 126.5h1.4v1.4h-1.4zM766.5 126.5h1.4v1.4h-1.4zM780.0 126.5h1.4v1.4h-1.4zM793.5 126.5h1.4v1.4h-1.4zM806.9 126.5h1.4v1.4h-1.4z" fill="#28676b"/>
<polyline points="356.7,137.8 370.2,137.8 383.6,137.8 397.1,137.8 410.6,137.8 424.0,137.8 437.5,138.6 450.9,139.7 464.4,140.9 477.9,142.1 491.3,143.3 504.8,144.5 518.2,145.5 531.7,146.2 545.2,146.2 558.6,146.2 572.1,146.2 585.5,146.2 599.0,146.2 612.5,146.2 625.9,145.9 639.4,145.0 652.8,143.9 666.3,142.6 679.8,141.4 693.2,140.2 706.7,139.1 720.1,138.1 733.6,137.8 747.1,137.8 760.5,137.8 774.0,137.8 787.4,137.8" fill="none" stroke="#30798c" stroke-width=".65" stroke-opacity=".6"/>
<path d="M356.0 137.1h1.4v1.4h-1.4zM369.5 137.1h1.4v1.4h-1.4zM382.9 137.1h1.4v1.4h-1.4zM396.4 137.1h1.4v1.4h-1.4zM409.9 137.1h1.4v1.4h-1.4zM423.3 137.1h1.4v1.4h-1.4zM436.8 137.9h1.4v1.4h-1.4zM450.2 139.0h1.4v1.4h-1.4zM463.7 140.2h1.4v1.4h-1.4zM477.2 141.4h1.4v1.4h-1.4zM490.6 142.6h1.4v1.4h-1.4zM504.1 143.8h1.4v1.4h-1.4zM517.5 144.8h1.4v1.4h-1.4zM531.0 145.6h1.4v1.4h-1.4zM544.5 145.6h1.4v1.4h-1.4zM557.9 145.6h1.4v1.4h-1.4zM571.4 145.6h1.4v1.4h-1.4zM584.8 145.6h1.4v1.4h-1.4zM598.3 145.6h1.4v1.4h-1.4zM611.8 145.6h1.4v1.4h-1.4zM625.2 145.2h1.4v1.4h-1.4zM638.7 144.3h1.4v1.4h-1.4zM652.1 143.2h1.4v1.4h-1.4zM665.6 141.9h1.4v1.4h-1.4zM679.0 140.7h1.4v1.4h-1.4zM692.5 139.5h1.4v1.4h-1.4zM706.0 138.4h1.4v1.4h-1.4zM719.4 137.4h1.4v1.4h-1.4zM732.9 137.1h1.4v1.4h-1.4zM746.4 137.1h1.4v1.4h-1.4zM759.8 137.1h1.4v1.4h-1.4zM773.3 137.1h1.4v1.4h-1.4zM786.7 137.1h1.4v1.4h-1.4z" fill="#276372"/>
<polyline points="376.9,148.4 390.4,148.4 403.8,148.4 417.3,148.8 430.7,149.7 444.2,150.7 457.7,151.7 471.1,152.8 484.6,153.9 498.0,154.9 511.5,155.8 525.0,156.5 538.4,156.5 551.9,156.5 565.3,156.5 578.8,156.5 592.3,156.5 605.7,156.5 619.2,156.5 632.6,156.2 646.1,155.3 659.6,154.4 673.0,153.3 686.5,152.2 699.9,151.1 713.4,150.1 726.9,149.2 740.3,148.4 753.8,148.4 767.2,148.4" fill="none" stroke="#2f7495" stroke-width=".65" stroke-opacity=".6"/>
<path d="M376.2 147.7h1.4v1.4h-1.4zM389.7 147.7h1.4v1.4h-1.4zM403.1 147.7h1.4v1.4h-1.4zM416.6 148.1h1.4v1.4h-1.4zM430.0 149.0h1.4v1.4h-1.4zM443.5 150.0h1.4v1.4h-1.4zM457.0 151.0h1.4v1.4h-1.4zM470.4 152.1h1.4v1.4h-1.4zM483.9 153.2h1.4v1.4h-1.4zM497.3 154.2h1.4v1.4h-1.4zM510.8 155.1h1.4v1.4h-1.4zM524.3 155.8h1.4v1.4h-1.4zM537.7 155.8h1.4v1.4h-1.4zM551.2 155.8h1.4v1.4h-1.4zM564.6 155.8h1.4v1.4h-1.4zM578.1 155.8h1.4v1.4h-1.4zM591.6 155.8h1.4v1.4h-1.4zM605.0 155.8h1.4v1.4h-1.4zM618.5 155.8h1.4v1.4h-1.4zM631.9 155.5h1.4v1.4h-1.4zM645.4 154.6h1.4v1.4h-1.4zM658.9 153.7h1.4v1.4h-1.4zM672.3 152.6h1.4v1.4h-1.4zM685.8 151.5h1.4v1.4h-1.4zM699.2 150.4h1.4v1.4h-1.4zM712.7 149.4h1.4v1.4h-1.4zM726.2 148.5h1.4v1.4h-1.4zM739.6 147.7h1.4v1.4h-1.4zM753.1 147.7h1.4v1.4h-1.4zM766.5 147.7h1.4v1.4h-1.4z" fill="#265f7a"/>
<polyline points="397.1,159.2 410.6,159.9 424.0,161.2 437.5,161.9 450.9,162.4 464.4,163.8 477.9,165.1 491.3,165.6 504.8,166.2 518.2,167.4 531.7,167.5 545.2,166.9 558.6,167.0 572.1,167.5 585.5,167.3 599.0,166.9 612.5,167.2 625.9,167.5 639.4,166.8 652.8,165.8 666.3,165.3 679.8,164.5 693.2,163.0 706.7,162.0 720.1,161.6 733.6,160.6 747.1,159.3" fill="none" stroke="#2e6f9e" stroke-width=".65" stroke-opacity=".6"/>
<path d="M396.4 158.5h1.4v1.4h-1.4zM409.9 159.2h1.4v1.4h-1.4zM423.3 160.5h1.4v1.4h-1.4zM436.8 161.2h1.4v1.4h-1.4zM450.2 161.7h1.4v1.4h-1.4zM463.7 163.1h1.4v1.4h-1.4zM477.2 164.4h1.4v1.4h-1.4zM490.6 164.9h1.4v1.4h-1.4zM504.1 165.5h1.4v1.4h-1.4zM517.5 166.7h1.4v1.4h-1.4zM531.0 166.8h1.4v1.4h-1.4zM544.5 166.2h1.4v1.4h-1.4zM557.9 166.3h1.4v1.4h-1.4zM571.4 166.8h1.4v1.4h-1.4zM584.8 166.6h1.4v1.4h-1.4zM598.3 166.2h1.4v1.4h-1.4zM611.8 166.5h1.4v1.4h-1.4zM625.2 166.8h1.4v1.4h-1.4zM638.7 166.1h1.4v1.4h-1.4zM652.1 165.1h1.4v1.4h-1.4zM665.6 164.6h1.4v1.4h-1.4zM679.0 163.8h1.4v1.4h-1.4zM692.5 162.3h1.4v1.4h-1.4zM706.0 161.3h1.4v1.4h-1.4zM719.4 160.9h1.4v1.4h-1.4zM732.9 159.9h1.4v1.4h-1.4zM746.4 158.6h1.4v1.4h-1.4z" fill="#255b81"/>
<polyline points="417.3,170.9 430.7,172.1 444.2,172.7 457.7,173.6 471.1,175.2 484.6,176.2 498.0,176.6 511.5,177.4 525.0,177.9 538.4,177.7 551.9,177.3 565.3,177.6 578.8,177.9 592.3,177.5 605.7,177.3 619.2,177.8 632.6,177.9 646.1,177.0 659.6,176.2 673.0,175.7 686.5,174.5 699.9,173.0 713.4,172.2 726.9,171.6" fill="none" stroke="#2d6aa7" stroke-width=".65" stroke-opacity=".6"/>
<path d="M416.6 170.2h1.4v1.4h-1.4zM430.0 171.4h1.4v1.4h-1.4zM443.5 172.0h1.4v1.4h-1.4zM457.0 172.9h1.4v1.4h-1.4zM470.4 174.5h1.4v1.4h-1.4zM483.9 175.5h1.4v1.4h-1.4zM497.3 175.9h1.4v1.4h-1.4zM510.8 176.7h1.4v1.4h-1.4zM524.3 177.2h1.4v1.4h-1.4zM537.7 177.0h1.4v1.4h-1.4zM551.2 176.6h1.4v1.4h-1.4zM564.6 176.9h1.4v1.4h-1.4zM578.1 177.2h1.4v1.4h-1.4zM591.6 176.8h1.4v1.4h-1.4zM605.0 176.6h1.4v1.4h-1.4zM618.5 177.1h1.4v1.4h-1.4zM631.9 177.2h1.4v1.4h-1.4zM645.4 176.3h1.4v1.4h-1.4zM658.9 175.5h1.4v1.4h-1.4zM672.3 175.0h1.4v1.4h-1.4zM685.8 173.8h1.4v1.4h-1.4zM699.2 172.3h1.4v1.4h-1.4zM712.7 171.5h1.4v1.4h-1.4zM726.2 170.9h1.4v1.4h-1.4z" fill="#245688"/>
<polyline points="437.5,183.3 450.9,183.9 464.4,185.1 477.9,186.6 491.3,187.3 504.8,187.6 518.2,188.0 531.7,188.3 545.2,187.9 558.6,187.7 572.1,188.2 585.5,188.3 599.0,187.7 612.5,187.8 625.9,188.3 639.4,188.1 652.8,187.2 666.3,186.7 679.8,186.1 693.2,184.6 706.7,183.3" fill="none" stroke="#2b65b1" stroke-width=".65" stroke-opacity=".6"/>
<path d="M436.8 182.6h1.4v1.4h-1.4zM450.2 183.2h1.4v1.4h-1.4zM463.7 184.4h1.4v1.4h-1.4zM477.2 185.9h1.4v1.4h-1.4zM490.6 186.6h1.4v1.4h-1.4zM504.1 186.9h1.4v1.4h-1.4zM517.5 187.3h1.4v1.4h-1.4zM531.0 187.6h1.4v1.4h-1.4zM544.5 187.2h1.4v1.4h-1.4zM557.9 187.0h1.4v1.4h-1.4zM571.4 187.5h1.4v1.4h-1.4zM584.8 187.6h1.4v1.4h-1.4zM598.3 187.0h1.4v1.4h-1.4zM611.8 187.1h1.4v1.4h-1.4zM625.2 187.6h1.4v1.4h-1.4zM638.7 187.4h1.4v1.4h-1.4zM652.1 186.5h1.4v1.4h-1.4zM665.6 186.0h1.4v1.4h-1.4zM679.0 185.4h1.4v1.4h-1.4zM692.5 183.9h1.4v1.4h-1.4zM706.0 182.6h1.4v1.4h-1.4z" fill="#235291"/>
<polyline points="457.7,195.8 471.1,196.9 484.6,197.8 498.0,197.8 511.5,197.7 525.0,198.2 538.4,198.2 551.9,197.7 565.3,197.8 578.8,198.3 592.3,198.1 605.7,197.7 619.2,198.0 632.6,198.3 646.1,197.9 659.6,197.3 673.0,197.3 686.5,196.7" fill="none" stroke="#2a60ba" stroke-width=".65" stroke-opacity=".6"/>
<path d="M457.0 195.1h1.4v1.4h-1.4zM470.4 196.2h1.4v1.4h-1.4zM483.9 197.1h1.4v1.4h-1.4zM497.3 197.1h1.4v1.4h-1.4zM510.8 197.0h1.4v1.4h-1.4zM524.3 197.5h1.4v1.4h-1.4zM537.7 197.5h1.4v1.4h-1.4zM551.2 197.0h1.4v1.4h-1.4zM564.6 197.1h1.4v1.4h-1.4zM578.1 197.6h1.4v1.4h-1.4zM591.6 197.4h1.4v1.4h-1.4zM605.0 197.0h1.4v1.4h-1.4zM618.5 197.3h1.4v1.4h-1.4zM631.9 197.6h1.4v1.4h-1.4zM645.4 197.2h1.4v1.4h-1.4zM658.9 196.6h1.4v1.4h-1.4zM672.3 196.6h1.4v1.4h-1.4zM685.8 196.0h1.4v1.4h-1.4z" fill="#224e98"/>
<polyline points="477.9,209.5 491.3,209.5 504.8,208.9 518.2,209.1 531.7,209.6 545.2,209.3 558.6,208.9 572.1,209.3 585.5,209.6 599.0,209.1 612.5,208.9 625.9,209.5 639.4,209.5 652.8,209.0 666.3,209.1" fill="none" stroke="#295cc3" stroke-width=".65" stroke-opacity=".6"/>
<path d="M477.2 208.8h1.4v1.4h-1.4zM490.6 208.8h1.4v1.4h-1.4zM504.1 208.2h1.4v1.4h-1.4zM517.5 208.4h1.4v1.4h-1.4zM531.0 208.9h1.4v1.4h-1.4zM544.5 208.6h1.4v1.4h-1.4zM557.9 208.2h1.4v1.4h-1.4zM571.4 208.6h1.4v1.4h-1.4zM584.8 208.9h1.4v1.4h-1.4zM598.3 208.4h1.4v1.4h-1.4zM611.8 208.2h1.4v1.4h-1.4zM625.2 208.8h1.4v1.4h-1.4zM638.7 208.8h1.4v1.4h-1.4zM652.1 208.3h1.4v1.4h-1.4zM665.6 208.4h1.4v1.4h-1.4z" fill="#214b9f"/>
<polyline points="498.0,219.3 511.5,218.9 525.0,219.3 538.4,219.6 551.9,219.1 565.3,219.0 578.8,219.5 592.3,219.5 605.7,219.0 619.2,219.1 632.6,219.6 646.1,219.3" fill="none" stroke="#2857cc" stroke-width=".65" stroke-opacity=".6"/>
<path d="M497.3 218.6h1.4v1.4h-1.4zM510.8 218.2h1.4v1.4h-1.4zM524.3 218.6h1.4v1.4h-1.4zM537.7 218.9h1.4v1.4h-1.4zM551.2 218.4h1.4v1.4h-1.4zM564.6 218.3h1.4v1.4h-1.4zM578.1 218.8h1.4v1.4h-1.4zM591.6 218.8h1.4v1.4h-1.4zM605.0 218.3h1.4v1.4h-1.4zM618.5 218.4h1.4v1.4h-1.4zM631.9 218.9h1.4v1.4h-1.4zM645.4 218.6h1.4v1.4h-1.4z" fill="#2047a7"/>
<polyline points="518.2,230.0 531.7,230.5 545.2,230.5 558.6,229.9 572.1,230.1 585.5,230.6 599.0,230.3 612.5,229.9 625.9,230.3" fill="none" stroke="#2652d6" stroke-width=".65" stroke-opacity=".6"/>
<path d="M517.5 229.3h1.4v1.4h-1.4zM531.0 229.8h1.4v1.4h-1.4zM544.5 229.8h1.4v1.4h-1.4zM557.9 229.2h1.4v1.4h-1.4zM571.4 229.4h1.4v1.4h-1.4zM584.8 229.9h1.4v1.4h-1.4zM598.3 229.6h1.4v1.4h-1.4zM611.8 229.2h1.4v1.4h-1.4zM625.2 229.6h1.4v1.4h-1.4z" fill="#1f43af"/>
<polyline points="538.4,240.8 551.9,240.5 565.3,240.2 578.8,240.6 592.3,240.8 605.7,240.3" fill="none" stroke="#254ddf" stroke-width=".65" stroke-opacity=".6"/>
<path d="M537.7 240.1h1.4v1.4h-1.4zM551.2 239.8h1.4v1.4h-1.4zM564.6 239.5h1.4v1.4h-1.4zM578.1 239.9h1.4v1.4h-1.4zM591.6 240.1h1.4v1.4h-1.4zM605.0 239.6h1.4v1.4h-1.4z" fill="#1e3fb6"/>
<polyline points="558.6,251.3 572.1,251.2 585.5,251.8" fill="none" stroke="#2448e8" stroke-width=".65" stroke-opacity=".6"/>
<path d="M557.9 250.6h1.4v1.4h-1.4zM571.4 250.5h1.4v1.4h-1.4zM584.8 251.1h1.4v1.4h-1.4z" fill="#1d3bbe"/>
<path d="M153.5 52.6H989V256.2" fill="none" stroke="#9a9a9a" stroke-width=".8"/>
<path d="M153.5 52.3V256.2H989" fill="none" stroke="#2a2a2a" stroke-width="1.1"/>
<g font-size="4.6" fill="#000">
<text transform="translate(149.7 58.3)" text-anchor="end" font-size="3.95">1e+14</text>
<line x1="151.3" y1="56.9" x2="153" y2="56.9" stroke="#555" stroke-width=".5"/>
<text transform="translate(149.7 94.3)" text-anchor="end" font-size="3.95">1e+12</text>
<line x1="151.3" y1="92.9" x2="153" y2="92.9" stroke="#555" stroke-width=".5"/>
<text transform="translate(149.7 130.3)" text-anchor="end" font-size="3.95">1e+10</text>
<line x1="151.3" y1="128.9" x2="153" y2="128.9" stroke="#555" stroke-width=".5"/>
<text transform="translate(149.7 166.3)" text-anchor="end" font-size="3.95">1e+08</text>
<line x1="151.3" y1="164.9" x2="153" y2="164.9" stroke="#555" stroke-width=".5"/>
<text transform="translate(149.7 202.3)" text-anchor="end" font-size="3.95">1e+06</text>
<line x1="151.3" y1="200.9" x2="153" y2="200.9" stroke="#555" stroke-width=".5"/>
<text transform="translate(149.7 238.3)" text-anchor="end" font-size="3.95">1e+04</text>
<line x1="151.3" y1="236.9" x2="153" y2="236.9" stroke="#555" stroke-width=".5"/>
<text transform="translate(175 263.6)" text-anchor="middle" font-size="3.95">0</text>
<text transform="translate(309.6 263.6)" text-anchor="middle" font-size="3.95">50</text>
<text transform="translate(444.2 263.6)" text-anchor="middle" font-size="3.95">100</text>
<text transform="translate(578.8 263.6)" text-anchor="middle" font-size="3.95">150</text>
<text transform="translate(713.4 263.6)" text-anchor="middle" font-size="3.95">200</text>
<text transform="translate(848 263.6)" text-anchor="middle" font-size="3.95">250</text>
<text transform="translate(982.6 263.6)" text-anchor="middle" font-size="3.95">300</text>
<text transform="translate(571.8 269)" text-anchor="middle" font-size="4.35">Distance [m]</text>
<text transform="translate(561.9 49.5)" text-anchor="middle" font-size="4.35">Data profile</text>
<text transform="translate(134.8 154) rotate(-90)" text-anchor="middle" font-size="4.35">No Unit</text>
</g>
<path d="M161.5 256.2v1.2M175.0 256.2v2M188.5 256.2v1.2M201.9 256.2v1.2M215.4 256.2v1.2M228.8 256.2v1.2M242.3 256.2v1.2M255.8 256.2v1.2M269.2 256.2v1.2M282.7 256.2v1.2M296.1 256.2v1.2M309.6 256.2v2M323.1 256.2v1.2M336.5 256.2v1.2M350.0 256.2v1.2M363.4 256.2v1.2M376.9 256.2v1.2M390.4 256.2v1.2M403.8 256.2v1.2M417.3 256.2v1.2M430.7 256.2v1.2M444.2 256.2v2M457.7 256.2v1.2M471.1 256.2v1.2M484.6 256.2v1.2M498.0 256.2v1.2M511.5 256.2v1.2M525.0 256.2v1.2M538.4 256.2v1.2M551.9 256.2v1.2M565.3 256.2v1.2M578.8 256.2v2M592.3 256.2v1.2M605.7 256.2v1.2M619.2 256.2v1.2M632.6 256.2v1.2M646.1 256.2v1.2M659.6 256.2v1.2M673.0 256.2v1.2M686.5 256.2v1.2M699.9 256.2v1.2M713.4 256.2v2M726.9 256.2v1.2M740.3 256.2v1.2M753.8 256.2v1.2M767.2 256.2v1.2M780.7 256.2v1.2M794.2 256.2v1.2M807.6 256.2v1.2M821.1 256.2v1.2M834.5 256.2v1.2M848.0 256.2v2M861.5 256.2v1.2M874.9 256.2v1.2M888.4 256.2v1.2M901.8 256.2v1.2M915.3 256.2v1.2M928.8 256.2v1.2M942.2 256.2v1.2M955.7 256.2v1.2M969.1 256.2v1.2M982.6 256.2v2" stroke="#777" stroke-width=".45" fill="none"/>
<path d="M172.6 299V489.8M307.5 299V489.8M442.5 299V489.8M577.4 299V489.8M712.4 299V489.8M847.4 299V489.8M982.3 299V489.8M151.4 303.9H989M151.4 327.2H989M151.4 350.4H989M151.4 373.7H989M151.4 396.9H989M151.4 420.2H989M151.4 443.5H989M151.4 466.7H989" stroke="#a4a4a4" stroke-width=".6" stroke-dasharray=".9 .9" fill="none"/>
<defs><clipPath id="tri"><polygon points="194.4,313.6 227,323.4 233,327 241,334 250,341 259,346 270,350.6 290,357.4 300,360 310,363 322.5,372 335,381 350,388 370,395.6 387.5,402 397.5,407 413.75,417 432.5,427 440,430.6 456,435 471,440 490,452.5 509,464 527.5,471 538.75,475 555,480 570,487 585,487.75 947.5,313.6"/></clipPath></defs>
<g clip-path="url(#tri)">
<rect x="150" y="300" width="850" height="200" fill="#14b482"/>
<polygon points="150,300 1000,300 1000,322 914.82,322 914.82,322 913.82,321.24 912.82,320.51 911.82,319.87 910.81,319.35 909.81,318.96 908.81,318.75 907.8,318.71 906.8,318.84 905.8,319.15 904.79,319.62 903.79,320.21 902.79,320.9 901.79,321.65 900.78,321.58 899.78,320.83 898.78,320.15 897.77,319.57 896.77,319.12 895.77,318.82 894.76,318.7 893.76,318.76 892.76,318.99 891.76,319.39 890.75,319.93 889.75,320.58 888.75,321.3 887.74,321.93 886.74,321.17 885.74,320.45 884.73,319.82 883.73,319.31 882.73,318.94 881.73,318.74 880.72,318.71 879.72,318.87 878.72,319.19 877.71,319.67 876.71,320.27 875.71,320.97 874.7,321.72 873.7,321.51 872.7,320.77 871.7,320.09 870.69,319.52 869.69,319.09 868.69,318.81 867.68,318.7 866.68,318.77 865.68,319.02 864.67,319.43 863.67,319.98 862.67,320.64 861.67,321.37 860.66,321.86 859.66,321.1 858.66,320.39 857.65,319.77 856.65,319.27 855.65,318.91 854.64,318.73 853.64,318.72 852.64,318.89 851.64,319.23 850.63,319.72 849.63,320.33 848.63,321.03 847.62,321.79 846.62,321.44 845.62,320.7 844.61,320.04 843.61,319.48 842.61,319.05 841.61,318.79 840.6,318.7 839.6,318.79 838.6,319.05 837.59,319.48 836.59,320.04 835.59,320.71 834.58,321.44 833.58,321.79 832.58,321.03 831.58,320.33 830.57,319.72 829.57,319.23 828.57,318.89 827.56,318.72 826.56,318.73 825.56,318.91 824.55,319.27 823.55,319.77 822.55,320.39 821.54,321.1 820.54,321.86 819.54,321.37 818.54,320.64 817.53,319.98 816.53,319.43 815.53,319.02 814.52,318.77 813.52,318.7 812.52,318.81 811.51,319.09 810.51,319.52 809.51,320.09 808.51,320.77 807.5,321.51 806.5,321.72 805.5,320.97 804.49,320.27 803.49,319.67 802.49,319.19 801.48,318.87 800.48,318.71 799.48,318.74 798.48,318.94 797.47,319.31 796.47,319.82 795.47,320.45 794.46,321.17 793.46,321.93 792.46,321.3 791.45,320.58 790.45,319.93 789.45,319.39 788.45,318.99 787.44,318.76 786.44,318.7 785.44,318.82 784.43,319.12 783.43,319.57 782.43,320.15 781.42,320.84 780.42,321.58 779.42,321.65 778.42,320.9 777.41,320.21 776.41,319.62 775.41,319.15 774.4,318.84 773.4,318.71 772.4,318.75 771.39,318.96 770.39,319.35 769.39,319.87 768.39,320.51 767.38,321.24 766.38,322 765.38,321.24 764.37,320.51 763.37,319.87 762.37,319.35 761.36,318.96 760.36,318.75 759.36,318.71 758.36,318.84 757.35,319.15 756.35,319.62 755.35,320.21 754.34,320.9 753.34,321.65 752.34,321.58 751.33,320.83 750.33,320.15 749.33,319.57 748.33,319.12 747.32,318.82 746.32,318.7 745.32,318.76 744.31,318.99 743.31,319.39 742.31,319.93 741.3,320.58 740.3,321.31 739.3,321.93 738.3,321.17 737.29,320.45 736.29,319.82 735.29,319.31 734.28,318.94 733.28,318.74 732.28,318.71 731.27,318.87 730.27,319.19 729.27,319.67 728.26,320.27 727.26,320.97 726.26,321.72 725.26,321.51 724.25,320.77 723.25,320.09 722.25,319.52 721.24,319.09 720.24,318.81 719.24,318.7 718.23,318.77 717.23,319.02 716.23,319.43 715.23,319.98 714.22,320.64 713.22,321.37 712.22,321.86 711.21,321.1 710.21,320.39 709.21,319.77 708.2,319.27 707.2,318.91 706.2,318.73 705.2,318.72 704.19,318.89 703.19,319.23 702.19,319.72 701.18,320.33 700.18,321.03 699.18,321.79 698.17,321.44 697.17,320.7 696.17,320.04 695.17,319.48 694.16,319.05 693.16,318.79 692.16,318.7 691.15,318.79 690.15,319.05 689.15,319.48 688.14,320.04 687.14,320.71 686.14,321.44 685.14,321.79 684.13,321.03 683.13,320.33 682.13,319.72 681.12,319.23 680.12,318.89 679.12,318.72 678.11,318.73 677.11,318.91 676.11,319.27 675.11,319.77 674.1,320.39 673.1,321.1 672.1,321.86 671.09,321.37 670.09,320.64 669.09,319.98 668.08,319.43 667.08,319.02 666.08,318.77 665.08,318.7 664.07,318.81 663.07,319.09 662.07,319.52 661.06,320.1 660.06,320.77 659.06,321.51 658.05,321.72 657.05,320.97 656.05,320.27 655.05,319.67 654.04,319.19 653.04,318.87 652.04,318.71 651.03,318.74 650.03,318.94 649.03,319.31 648.02,319.82 647.02,320.45 646.02,321.17 645.02,321.93 644.01,321.3 643.01,320.58 642.01,319.93 641,319.39 640,318.99 636,317.6 625,318 618,318.9 615,321 615,330 619,342.5 625,355 627.5,367 634,377 640,388 642,398 641,400 642,406 646,413 650,420 652,427 650,432 644,430 638,430 632,437 627,442 623,446 617,445 606,440 602.5,448 599,451.5 595,448 590.6,442 586,448 582.5,450 581,440 578,430 575,434 567.5,439 560,445 552.5,441 549,436 544,427 536,435 530,442 522.5,435 515,432.5 506,437.5 499,443 494,440 491,434 492.5,429 495,420 496.5,410 495.5,400 498,393 505,380 512,372 516,367 520,357.5 523,346 526,336 528,327.5 528.5,323 527,318.75 520,318.3 510,318.2 503,319.4 496,318.4 489,320.3 483,318.7 478,320.6 476,318.71 475,318.84 474,319.14 472.99,319.6 471.99,320.18 470.99,320.87 469.99,321.62 468.99,321.62 467.99,320.87 466.98,320.18 465.98,319.6 464.98,319.14 463.98,318.84 462.98,318.7 461.98,318.75 460.97,318.98 459.97,319.36 458.97,319.89 457.97,320.54 456.97,321.26 455.97,321.98 454.96,321.22 453.96,320.5 452.96,319.86 451.96,319.34 450.96,318.96 449.96,318.74 448.95,318.71 447.95,318.85 446.95,319.16 445.95,319.63 444.95,320.22 443.95,320.91 442.94,321.66 441.94,321.57 440.94,320.83 439.94,320.15 438.94,319.57 437.94,319.12 436.93,318.82 435.93,318.7 434.93,318.76 433.93,318.99 432.93,319.39 431.93,319.93 430.92,320.57 429.92,321.3 428.92,321.94 427.92,321.17 426.92,320.46 425.92,319.83 424.91,319.31 423.91,318.94 422.91,318.74 421.91,318.71 420.91,318.86 419.91,319.18 418.9,319.66 417.9,320.26 416.9,320.95 415.9,321.7 414.9,321.53 413.9,320.79 412.89,320.11 411.89,319.54 410.89,319.1 409.89,318.81 408.89,318.7 407.89,318.77 406.88,319.01 405.88,319.41 404.88,319.96 403.88,320.61 402.88,321.34 401.88,321.89 400.87,321.13 399.87,320.42 398.87,319.79 397.87,319.29 396.87,318.93 395.87,318.73 394.86,318.71 393.86,318.88 392.86,319.2 391.86,319.69 390.86,320.29 389.85,320.99 388.85,321.74 387.85,321.49 386.85,320.75 385.85,320.08 384.85,319.51 383.84,319.08 382.84,318.8 381.84,318.7 380.84,318.78 379.84,319.03 378.84,319.44 377.83,319.99 376.83,320.65 375.83,321.38 374.83,321.85 373.83,321.09 372.83,320.38 371.82,319.76 370.82,319.26 369.82,318.91 368.82,318.73 367.82,318.72 366.82,318.89 365.81,319.23 364.81,319.72 363.81,320.33 362.81,321.03 361.81,321.79 360.81,321.45 359.8,320.71 358.8,320.04 357.8,319.48 356.8,319.06 355.8,318.79 354.8,318.7 353.79,318.79 352.79,319.05 351.79,319.47 350.79,320.03 349.79,320.69 348.79,321.43 347.78,321.81 346.78,321.05 345.78,320.35 344.78,319.73 343.78,319.24 342.78,318.9 341.77,318.72 340.77,318.72 339.77,318.9 338.77,319.25 337.77,319.75 336.77,320.37 335.76,321.07 334.76,321.83 333.76,321.4 332.76,320.67 331.76,320.01 330.76,319.45 329.75,319.04 328.75,318.78 327.75,318.7 326.75,318.8 325.75,319.07 324.75,319.5 323.74,320.06 322.74,320.73 321.74,321.47 320.74,321.76 319.74,321.01 318.74,320.31 317.73,319.7 316.73,319.22 315.73,318.88 314.73,318.72 313.73,318.73 312.73,318.92 311.72,319.27 310.72,319.78 309.72,320.4 308.72,321.11 307.72,321.87 306.71,321.36 305.71,320.63 304.71,319.97 303.71,319.43 302.71,319.02 301.71,318.77 300.7,318.7 299.7,318.81 298.7,319.09 297.7,319.52 296.7,320.1 295.7,320.77 294.69,321.51 293.69,321.72 292.69,320.97 291.69,320.27 290.69,319.67 289.69,319.19 288.68,318.87 287.68,318.71 286.68,318.74 285.68,318.93 284.68,319.3 283.68,319.81 282.67,320.44 281.67,321.15 280.67,321.91 279.67,321.32 278.67,320.59 277.67,319.94 276.66,319.4 275.66,319 274.66,318.76 273.66,318.7 272.66,318.82 271.66,319.11 270.65,319.55 269.65,320.13 268.65,320.81 267.65,321.55 266.65,321.68 265.65,320.93 264.64,320.24 263.64,319.64 262.64,319.17 261.64,318.85 260.64,318.71 259.64,318.74 258.63,318.95 257.63,319.32 256.63,319.84 255.63,320.48 254.63,321.2 253.63,321.96 252.62,321.28 251.62,320.55 250.62,319.91 249.62,319.37 248.62,318.98 247.62,318.76 246.61,318.7 245.61,318.83 244.61,319.13 243.61,319.58 242.61,320.17 241.61,320.85 240.6,321.59 239.6,321.64 238.6,320.89 237.6,320.2 236.6,319.61 235.6,319.15 234.59,318.84 233.59,318.71 232.59,318.75 231.59,318.97 230.59,319.35 229.59,319.88 228.58,320.52 227.58,321.24 226.58,322 215,330 150,330" fill="#00ffff" stroke="#000" stroke-opacity=".62" stroke-width=".5" stroke-linejoin="round"/>
<polygon points="552.5,315.6 575,315.6 595,316.25 600,320 607.5,334 615,352.5 621,367 627,379.5 630,392 627.5,403 623,407 613,413 612,429 610,430.5 606,426 599,420 595,415 585,421 576,412.5 567.5,417 561,419.5 557.5,420 550,418.5 544,411 539,417.5 535,424 530,431 525,421 520,414 516.5,408 513.75,416 508.75,422.5 503.75,417.5 503,410 503,403 506,390 510,380 515,373 520,366 527.5,349 536,330 544,318.75" fill="#1e90ff" stroke="#000" stroke-opacity=".62" stroke-width=".5" stroke-linejoin="round"/>
<polygon points="526,417.3 530.5,408 535,417.3 530.5,416" fill="#00ffff" stroke="#000" stroke-opacity=".62" stroke-width=".5" stroke-linejoin="round"/>
<polygon points="556,320.6 590,321 597.5,327 605,340 611,355 617,367 621,379.5 620,388 615,396 607.5,401 595,402.5 586,407.5 577.5,402.5 567.5,402 557.5,406 551,403 544,399.5 536,400 530,394.5 524,403 520,395 519.5,385 521,378 524,370 527,366 534,352.5 541.5,335 549,324" fill="#0000ff" stroke="#000" stroke-opacity=".62" stroke-width=".5" stroke-linejoin="round"/>
<polygon points="561,325.6 580,325.6 590,330 597.5,341 603,355 608,367 612.5,379.5 611,388 606,386 601,392 595,394 594,387 590,381 580,381 572.5,383 557.5,391 545,386 539,378 531,372 532,367 537,355 545,337.5 552.5,329" fill="#0000d8" stroke="#000" stroke-opacity=".62" stroke-width=".5" stroke-linejoin="round"/>
<polygon points="567.5,330 575,329.4 585,334 592.5,344 597.5,355 600,367 599,376 595,373 582.5,372 572.5,374.5 557.5,374 549,371 544,367 544,355 549,342.5 556,332.5" fill="#0000b0" stroke="#000" stroke-opacity=".62" stroke-width=".5" stroke-linejoin="round"/>
<polygon points="551,346 557.5,340 566,336 574,335.6 580,339 585,345 587.5,352.5 585,359 580,362.5 572.5,364 562.5,363 555,362 550,360 549.4,354" fill="#000084" stroke="#000" stroke-opacity=".62" stroke-width=".5" stroke-linejoin="round"/>
<polygon points="480,446 488,451 490,452.5 499,452 509,454 516,460.6 520,452.5 523.5,446 527.5,455 530,467 535,469 541,465.5 545.5,458 549.5,453.5 554,458 557.5,463.5 562.5,458 569,453 572.5,458 575,462 584,461.5 590,458.5 597.5,463.5 605,466 609,461.5 611,456 616,454.5 620,459.5 624,467 628,472 600,510 480,510" fill="#00ff00" stroke="#000" stroke-opacity=".62" stroke-width=".5" stroke-linejoin="round"/>
<polygon points="626,470 627.5,465 630,456.5 634,453.5 639,456 642,459 650,462 640,480" fill="#00ff00" stroke="#000" stroke-opacity=".62" stroke-width=".5" stroke-linejoin="round"/>
<polygon points="659,422 662,430 661,440 657,443 656.5,440 658,433 658,425" fill="#00ff00" stroke="#000" stroke-opacity=".62" stroke-width=".5" stroke-linejoin="round"/>
<polygon points="568,492 570,487 572.5,479 575,473 580,472 582.5,476.5 585,480 590,476 594,477 594.5,480 591,484 586,492" fill="#008000" stroke="#000" stroke-opacity=".62" stroke-width=".5" stroke-linejoin="round"/>
<polygon points="215,328 226.58,327.6 227.58,327.16 228.58,326.75 229.58,326.38 230.59,326.07 231.59,325.85 232.59,325.73 233.59,325.7 234.59,325.78 235.59,325.96 236.6,326.22 237.6,326.56 238.6,326.96 239.6,327.39 240.6,327.37 241.6,326.94 242.6,326.54 243.61,326.21 244.61,325.95 245.61,325.78 246.61,325.7 247.61,325.73 248.61,325.86 249.62,326.09 250.62,326.39 251.62,326.77 252.62,327.18 253.62,327.58 254.62,327.14 255.63,326.73 256.63,326.36 257.63,326.06 258.63,325.84 259.63,325.72 260.63,325.71 261.63,325.79 262.64,325.97 263.64,326.24 264.64,326.58 265.64,326.98 266.64,327.41 267.64,327.34 268.65,326.92 269.65,326.53 270.65,326.19 271.65,325.94 272.65,325.77 273.65,325.7 274.65,325.74 275.66,325.87 276.66,326.1 277.66,326.41 278.66,326.79 279.66,327.21 280.66,327.55 281.67,327.12 282.67,326.7 283.67,326.34 284.67,326.05 285.67,325.84 286.67,325.72 287.68,325.71 288.68,325.8 289.68,325.98 290.68,326.26 291.68,326.6 292.68,327 293.68,327.44 294.69,327.32 295.69,326.9 296.69,326.51 297.69,326.18 298.69,325.92 299.69,325.76 300.7,325.7 301.7,325.74 302.7,325.88 303.7,326.12 304.7,326.43 305.7,326.81 306.7,327.23 307.71,327.53 308.71,327.09 309.71,326.68 310.71,326.32 311.71,326.01 312.71,325.8 313.72,325.68 314.72,325.66 315.72,325.74 316.72,325.92 317.72,326.19 318.72,326.53 319.73,326.92 320.73,327.34 321.73,327.17 322.73,326.73 323.73,326.34 324.73,326 325.73,325.74 326.74,325.57 327.74,325.51 328.74,325.54 329.74,325.67 330.74,325.9 331.74,326.21 332.75,326.58 333.75,326.99 334.75,327.24 335.75,326.79 336.75,326.37 337.75,326 338.75,325.7 339.76,325.49 340.76,325.38 341.76,325.36 342.76,325.45 343.76,325.64 344.76,325.91 345.77,326.25 346.77,326.64 347.77,327.07 348.77,326.85 349.77,326.41 350.77,326.02 351.78,325.69 352.78,325.43 353.78,325.27 354.78,325.21 355.78,325.25 356.78,325.39 357.78,325.62 358.79,325.93 359.79,326.3 360.79,326.72 361.79,326.92 362.79,326.47 363.79,326.05 364.8,325.69 365.8,325.39 366.8,325.19 367.8,325.08 368.8,325.07 369.8,325.16 370.8,325.35 371.81,325.63 372.81,325.97 373.81,326.37 374.81,326.79 375.81,326.53 376.81,326.1 377.82,325.7 378.82,325.38 379.82,325.13 380.82,324.97 381.82,324.91 382.82,324.96 383.83,325.1 384.83,325.34 385.83,325.65 386.83,326.03 387.83,326.44 388.83,326.59 389.83,326.15 390.84,325.74 391.84,325.37 392.84,325.08 393.84,324.88 394.84,324.78 395.84,324.77 396.85,324.87 397.85,325.07 398.85,325.35 399.85,325.69 400.85,326.09 401.85,326.52 402.85,326.21 403.86,325.78 404.86,325.39 405.86,325.06 406.86,324.82 407.86,324.67 408.86,324.61 409.87,324.66 410.87,324.81 411.87,325.05 412.87,325.37 413.87,325.75 414.87,326.17 415.88,326.27 416.88,325.83 417.88,325.42 418.88,325.06 419.88,324.77 420.88,324.58 421.88,324.48 422.89,324.48 423.89,324.58 424.89,324.78 425.89,325.07 426.89,325.42 427.89,325.82 428.9,326.24 429.9,325.89 430.9,325.46 431.9,325.07 432.9,324.75 433.9,324.51 434.9,324.36 435.91,324.32 436.91,324.37 437.91,324.53 438.91,324.77 439.91,325.09 440.91,325.47 441.92,325.89 442.92,325.95 443.92,325.51 444.92,325.1 445.92,324.75 446.92,324.47 447.93,324.27 448.93,324.18 449.93,324.18 450.93,324.29 451.93,324.5 452.93,324.79 453.93,325.14 454.94,325.54 455.94,325.97 456.94,325.57 457.94,325.14 458.94,324.76 459.94,324.44 460.95,324.2 461.95,324.06 462.95,324.02 463.95,324.08 464.95,324.24 465.95,324.49 466.95,324.82 467.96,325.2 468.96,325.62 469.96,325.63 470.96,325.19 471.96,324.78 472.96,324.43 473.97,324.16 474.97,323.97 475.97,323.88 476.97,323.89 477.97,324.01 478.97,324.21 479.98,324.51 480.98,324.86 481.98,325.27 482.98,325.69 483.98,325.25 484.98,324.82 485.98,324.44 486.99,324.13 487.99,323.9 488.99,323.76 489.99,323.72 490.99,323.79 491.99,323.96 493,324.21 494,324.54 495,324.92 496,325.34 497.5,323.75 510,325 520,328.75 519.4,337.5 516,347.5 512.5,357.5 507.5,367 505,375.75 500,385.75 493.75,394.5 491,403 491,410.75 489,414.5 482.5,417.5 479,428.5 477.5,435 471,440.5 466,445 200,520 120,330" fill="#00ff00" stroke="#000" stroke-opacity=".62" stroke-width=".5" stroke-linejoin="round"/>
<polygon points="215,332.5 239,332.5 310,332 390,331 430,330.6 455,329.4 480,328 505,329.4 513,337 512,346 507.5,357.5 503.75,367 500,377 493.75,388 487.5,398 481,407 478.75,415.75 476.5,420 474,427.5 470,427.5 465,435 461,441 200,520 120,330" fill="#008000" stroke="#000" stroke-opacity=".62" stroke-width=".5" stroke-linejoin="round"/>
<polygon points="215,337.75 246,337.75 310,338 390,338 430,335.6 455,334.4 486,333 501,335 506,347.5 501,360 497.5,367 493.75,375.75 487.5,385.75 481,395.75 476,407 471,414.5 466,422 463,429 459,436 456,441 200,520 120,330" fill="#80c000" stroke="#000" stroke-opacity=".62" stroke-width=".5" stroke-linejoin="round"/>
<polygon points="215,343 253,343 310,343.4 390,342 430,340.6 455,338.75 485,337.75 495,341.25 498,343.75 497.5,355 493,366 486,378 480,389.5 473.75,399.5 468.75,409.5 462.5,418 457.5,425.75 455.6,429 452.5,434 449,440 200,520 120,330" fill="#ffff00" stroke="#000" stroke-opacity=".62" stroke-width=".5" stroke-linejoin="round"/>
<polygon points="215,348.75 266,348.75 300,348.75 337.5,348 375,347 425,345.6 455,343 480,342.5 485,343.75 489,352.5 488,364 481,377 476,388 470,398 465,407 457.5,417 452.5,423 448.75,429 446,432.5 442,439 200,520 120,330" fill="#c08010" stroke="#000" stroke-opacity=".62" stroke-width=".5" stroke-linejoin="round"/>
<polygon points="215,355 283,355 300,355.6 337.5,354.4 375,352.5 425,350.6 442.5,348 467.5,347.5 477.5,350 478,360 476,367 472.5,377 467.5,387 462.5,395.75 457.5,405.75 450,414.5 443.75,422 438.75,429 434,436 200,520 120,330" fill="#ff8000" stroke="#000" stroke-opacity=".62" stroke-width=".5" stroke-linejoin="round"/>
<polygon points="215,363 310,363 337.5,362 362.5,359.4 400,357 425,355.6 446,354.4 461,356.25 466,362.5 467.5,367 465,374.5 458.75,384.5 453.75,394.5 450,403 445,409.5 438.75,417 435,423 430,430 200,520 120,330" fill="#ff0000" stroke="#000" stroke-opacity=".62" stroke-width=".5" stroke-linejoin="round"/>
<polygon points="215,371 322.5,371 337.5,369.4 362.5,368 387.5,365.6 412.5,363 425,362.5 430,362 437.5,363 446,366 450.5,369 451,373 450,379.5 445,388 442.5,395.75 438.75,403 432.5,410.75 428.75,417 421,425 200,520 120,330" fill="#d00000" stroke="#000" stroke-opacity=".62" stroke-width=".5" stroke-linejoin="round"/>
<polygon points="215,380.6 335,380.6 350,378.75 362.5,375.6 387.5,373 395,370.75 402.5,373 408.75,372 416,374.5 423.75,374.5 430,380.75 432.5,387 428.75,394.5 427.5,399.5 421,405.75 417.5,410.75 413,420 200,520 120,330" fill="#800040" stroke="#000" stroke-opacity=".62" stroke-width=".5" stroke-linejoin="round"/>
<polygon points="215,387.5 350,387.5 362.5,385 377.5,384.4 395,385.75 399,386 401,392 404,398 401,405 396,411 200,520 120,330" fill="#600064" stroke="#000" stroke-opacity=".62" stroke-width=".5" stroke-linejoin="round"/>
<polygon points="672,450 669,445 667,435 665,426 660,417 655,408 651,400 650,396 645,385.75 639,375.75 634,367 630,357.5 625,346 621,336 622.5,327.5 627,325 634,323.6 637,323.65 638,323.59 639.01,323.63 640.01,323.78 641.01,324.02 642.01,324.34 643.02,324.73 644.02,325.16 645.02,325.52 646.03,325.09 647.03,324.69 648.03,324.34 649.04,324.06 650.04,323.86 651.04,323.75 652.04,323.75 653.05,323.85 654.05,324.05 655.05,324.33 656.06,324.69 657.06,325.11 658.06,325.55 659.07,325.44 660.07,325.02 661.07,324.64 662.07,324.32 663.08,324.08 664.08,323.94 665.08,323.89 666.09,323.94 667.09,324.09 668.09,324.34 669.1,324.67 670.1,325.06 671.1,325.49 672.1,325.78 673.11,325.35 674.11,324.96 675.11,324.61 676.12,324.33 677.12,324.14 678.12,324.04 679.13,324.05 680.13,324.16 681.13,324.37 682.13,324.66 683.14,325.03 684.14,325.44 685.14,325.89 686.15,325.69 687.15,325.28 688.15,324.91 689.15,324.6 690.16,324.36 691.16,324.22 692.16,324.18 693.17,324.25 694.17,324.41 695.17,324.67 696.18,325 697.18,325.4 698.18,325.83 699.18,326.04 700.19,325.61 701.19,325.22 702.19,324.88 703.2,324.61 704.2,324.42 705.2,324.34 706.21,324.35 707.21,324.47 708.21,324.69 709.21,324.99 710.22,325.36 711.22,325.78 712.22,326.23 713.23,325.95 714.23,325.54 715.23,325.17 716.24,324.87 717.24,324.64 718.24,324.51 719.24,324.48 720.25,324.55 721.25,324.73 722.25,324.99 723.26,325.33 724.26,325.73 725.26,326.17 726.27,326.3 727.27,325.87 728.27,325.48 729.27,325.15 730.28,324.88 731.28,324.71 732.28,324.63 733.29,324.66 734.29,324.79 735.29,325.01 736.29,325.32 737.3,325.69 738.3,326.11 739.3,326.56 740.31,326.21 741.31,325.8 742.31,325.44 743.32,325.14 744.32,324.93 745.32,324.8 746.32,324.78 747.33,324.86 748.33,325.04 749.33,325.31 750.34,325.66 751.34,326.07 752.34,326.51 753.35,326.55 754.35,326.13 755.35,325.75 756.35,325.42 757.36,325.16 758.36,324.99 759.36,324.93 760.37,324.96 761.37,325.1 762.37,325.33 763.38,325.64 764.38,326.02 765.38,326.45 766.38,326.9 767.39,326.47 768.39,326.07 769.39,325.71 770.4,325.42 771.4,325.21 772.4,325.09 773.41,325.08 774.41,325.17 775.41,325.36 776.41,325.64 777.42,325.99 778.42,326.4 779.42,326.84 780.43,326.81 781.43,326.39 782.43,326.01 783.43,325.69 784.44,325.44 785.44,325.28 786.44,325.22 787.45,325.27 788.45,325.41 789.45,325.65 790.46,325.97 791.46,326.36 792.46,326.79 793.46,327.16 794.47,326.73 795.47,326.33 796.47,325.97 797.48,325.69 798.48,325.49 799.48,325.39 800.49,325.38 801.49,325.48 802.49,325.68 803.49,325.97 804.5,326.32 805.5,326.74 806.5,327.18 807.51,327.07 808.51,326.65 809.51,326.28 810.52,325.96 811.52,325.72 812.52,325.57 813.52,325.52 814.53,325.57 815.53,325.73 816.53,325.97 817.54,326.3 818.54,326.69 819.54,327.13 820.55,327.41 821.55,326.99 822.55,326.59 823.55,326.24 824.56,325.97 825.56,325.77 826.56,325.68 827.57,325.68 828.57,325.79 829.57,326 830.57,326.29 831.58,326.64 832.58,327.04 833.58,327.48 834.59,327.28 835.59,326.85 836.59,326.47 837.6,326.15 838.6,325.9 839.6,325.75 840.6,325.7 841.61,325.75 842.61,325.9 843.61,326.15 844.62,326.47 845.62,326.86 846.62,327.28 847.63,327.48 848.63,327.04 849.63,326.64 850.63,326.28 851.64,326 852.64,325.81 853.64,325.71 854.65,325.72 855.65,325.82 856.65,326.03 857.66,326.32 858.66,326.67 859.66,327.08 860.66,327.52 861.67,327.24 862.67,326.82 863.67,326.44 864.68,326.12 865.68,325.89 866.68,325.74 867.69,325.7 868.69,325.76 869.69,325.92 870.69,326.17 871.7,326.5 872.7,326.89 873.7,327.32 874.71,327.44 875.71,327 876.71,326.6 877.71,326.26 878.72,325.98 879.72,325.8 880.72,325.71 881.73,325.72 882.73,325.84 883.73,326.05 884.74,326.35 885.74,326.71 886.74,327.12 887.74,327.56 888.75,327.2 889.75,326.78 890.75,326.41 891.76,326.1 892.76,325.87 893.76,325.73 894.77,325.7 895.77,325.77 896.77,325.94 897.77,326.2 898.78,326.54 899.78,326.93 900.78,327.36 901.79,327.4 902.79,326.97 903.79,326.57 904.8,326.23 905.8,325.96 906.8,325.78 907.8,325.7 908.81,325.73 909.81,325.85 910.81,326.07 911.82,326.38 912.82,326.74 913.82,327.16 914.82,327.6 960,327.6 1000,330 900,520" fill="#00ff00" stroke="#000" stroke-opacity=".62" stroke-width=".5" stroke-linejoin="round"/>
<polygon points="680,446 677,441 673,434 671,428 666,416 662,406 659,400 657.5,397 651,385.75 644,374.5 639,367 635,355 629,345 627.5,336 634,330 640,328.5 660,328 700,329 745,331 800,332.6 870,332.8 910,332.8 960,332.8 1000,330 900,520" fill="#008000" stroke="#000" stroke-opacity=".62" stroke-width=".5" stroke-linejoin="round"/>
<polygon points="688,442 685,438 680,434 676,426 673,418 668,408 664,400 662.5,397 656,385.75 649,374.5 644.4,367 641,359 637,349 638,338 642,334.8 657,334.4 695,335.6 745,337 800,337.25 870,337.25 900,337.5 960,337.5 1000,330 900,520" fill="#80c000" stroke="#000" stroke-opacity=".62" stroke-width=".5" stroke-linejoin="round"/>
<polygon points="694,438 690,434 686,431 681,424 677,414 672,404 668,396 662.5,387 655,375.75 650,367 646,359 644,349 645,340.6 650,341 655,338 676,337.75 707.5,340 745,343 800,342.5 870,343 890,343 960,343 1000,330 900,520" fill="#ffff00" stroke="#000" stroke-opacity=".62" stroke-width=".5" stroke-linejoin="round"/>
<polygon points="699,436 695,429 691,422 686,414.5 681,405.75 675,395.75 669,384.5 661,374.5 656,367 654,359 653,351 660,343.75 670,342.5 695,343.75 720,345 745,348 800,347.5 870,348.75 880,349 960,349 1000,330 900,520" fill="#c08010" stroke="#000" stroke-opacity=".62" stroke-width=".5" stroke-linejoin="round"/>
<polygon points="706,436 703,431 701,427 697.5,420.75 694,414.5 690,407 682.5,397 676,387 670,375.75 666,367 664,361 662.5,355 666,350.6 675,348 685,349.4 690,347.5 707.5,349.4 726,350.6 745,353 782.5,354.4 820,356 845,355.6 870,355 960,355 1000,330 900,520" fill="#ff8000" stroke="#000" stroke-opacity=".62" stroke-width=".5" stroke-linejoin="round"/>
<polygon points="713,435 710,430 709,428 705,420.75 697.5,410.75 695,402 690,394.5 684,383 679,374.5 676,367 677.5,362.5 681,356 692.5,354 707.5,355 726,355.6 745,358.75 782.5,361 820,363 845,363 960,363 1000,330 900,520" fill="#ff0000" stroke="#000" stroke-opacity=".62" stroke-width=".5" stroke-linejoin="round"/>
<polygon points="724,431 720,426 717.5,423 711,413 705,403 699,392 692.5,380.75 690.6,372 692.5,367 695,364.4 701,362 707.5,363 715,361 732.5,362.5 745,365.6 782.5,368.75 807.5,370.6 826,372 960,374 1000,330 900,520" fill="#d00000" stroke="#000" stroke-opacity=".62" stroke-width=".5" stroke-linejoin="round"/>
<polygon points="731,428 728,422 726,419.5 724,410.75 720,400.75 715,389.5 712.5,379.5 720,371.4 732.5,373 757.5,374.4 782.5,377 811,379.4 830,381 960,384 1000,330 900,520" fill="#800040" stroke="#000" stroke-opacity=".62" stroke-width=".5" stroke-linejoin="round"/>
<polygon points="750,420 745,412 744,411 735.6,400 736,392.5 740,386 755,383 770,385.6 790,388 810,390 960,396 1000,330 900,520" fill="#600064" stroke="#000" stroke-opacity=".62" stroke-width=".5" stroke-linejoin="round"/>
<g font-size="3.8" fill="#000" fill-opacity=".82" text-anchor="middle">
<text x="262" y="322.6">316.5</text>
<text x="336" y="320.2">316.5</text>
<text x="385" y="320.2">316.5</text>
<text x="430" y="320.2">316.5</text>
<text x="482" y="319.5">316.5</text>
<text x="250" y="328.6">343.8</text>
<text x="302" y="328.3">343.8</text>
<text x="352" y="328.3">343.8</text>
<text x="400" y="327.5">343.8</text>
<text x="450" y="326.5">343.8</text>
<text x="500" y="325.5">343.8</text>
<text x="284" y="333.3">373.1</text>
<text x="336" y="333.8">373.1</text>
<text x="395" y="332.8">373.1</text>
<text x="440" y="331.6">373.1</text>
<text x="478" y="329.6">373.1</text>
<text x="291" y="338.7">405</text>
<text x="342" y="336.8">405</text>
<text x="400" y="338.5">405</text>
<text x="305" y="344.2">439.9</text>
<text x="360" y="343.9">439.9</text>
<text x="410" y="342.6">439.9</text>
<text x="460" y="339.6">439.9</text>
<text x="292" y="350.2">477.2</text>
<text x="342" y="349.5">477.2</text>
<text x="395" y="347.5">477.2</text>
<text x="450" y="344.6">477.2</text>
<text x="335" y="356.2">518.6</text>
<text x="385" y="353.4">518.6</text>
<text x="437" y="350.5">518.6</text>
<text x="352" y="362.6">563.2</text>
<text x="402" y="358.5">563.2</text>
<text x="452" y="356.5">563.2</text>
<text x="367" y="369.8">611.5</text>
<text x="420" y="364.4">611.5</text>
<text x="366" y="377.5">664</text>
<text x="402" y="373.5">664</text>
<text x="380" y="386.2">721</text>
<text x="528" y="330" transform="rotate(80 528 330)">316.5</text>
<text x="521" y="345" transform="rotate(75 521 345)">343.8</text>
<text x="513" y="345" transform="rotate(80 513 345)">373.1</text>
<text x="506" y="350" transform="rotate(90 506 350)">405</text>
<text x="498.5" y="352" transform="rotate(90 498.5 352)">439.9</text>
<text x="490" y="355" transform="rotate(90 490 355)">477.2</text>
<text x="479" y="358" transform="rotate(90 479 358)">518.6</text>
<text x="500" y="388" transform="rotate(-58 500 388)">343.8</text>
<text x="494" y="388" transform="rotate(-58 494 388)">373.1</text>
<text x="486" y="390" transform="rotate(-58 486 390)">405</text>
<text x="478" y="394" transform="rotate(-58 478 394)">439.9</text>
<text x="472" y="397" transform="rotate(-58 472 397)">477.2</text>
<text x="464" y="396" transform="rotate(-60 464 396)">518.6</text>
<text x="456" y="392" transform="rotate(-62 456 392)">563.2</text>
<text x="447" y="386" transform="rotate(-65 447 386)">611.5</text>
<text x="431" y="384" transform="rotate(70 431 384)">664</text>
<text x="403" y="397" transform="rotate(80 403 397)">721</text>
<text x="417" y="412" transform="rotate(-60 417 412)">664</text>
<text x="508" y="378" transform="rotate(-60 508 378)">316.5</text>
<text x="497" y="416" transform="rotate(88 497 416)">316.5</text>
<text x="492" y="424" transform="rotate(80 492 424)">343.8</text>
<text x="463" y="426" transform="rotate(-58 463 426)">405</text>
<text x="470" y="420" transform="rotate(-58 470 420)">373.1</text>
<text x="546" y="322" transform="rotate(-55 546 322)">291.5</text>
<text x="610" y="338" transform="rotate(65 610 338)">291.5</text>
<text x="604" y="342" transform="rotate(68 604 342)">268.5</text>
<text x="551" y="332" transform="rotate(-55 551 332)">268.5</text>
<text x="596" y="346" transform="rotate(68 596 346)">247.3</text>
<text x="545" y="352" transform="rotate(-75 545 352)">247.3</text>
<text x="577" y="340" transform="rotate(45 577 340)">227.7</text>
<text x="552" y="361" transform="rotate(10 552 361)">209.8</text>
<text x="579" y="373.5">227.7</text>
<text x="586" y="381.5">247.3</text>
<text x="541" y="381" transform="rotate(45 541 381)">247.3</text>
<text x="546" y="402.5" transform="rotate(20 546 402.5)">268.5</text>
<text x="598" y="404" transform="rotate(-15 598 404)">268.5</text>
<text x="568" y="418.5" transform="rotate(-25 568 418.5)">291.5</text>
<text x="607" y="422" transform="rotate(-50 607 422)">291.5</text>
<text x="507" y="412" transform="rotate(88 507 412)">291.5</text>
<text x="525" y="372" transform="rotate(-65 525 372)">291.5</text>
<text x="524" y="437.5" transform="rotate(20 524 437.5)">316.5</text>
<text x="566" y="442" transform="rotate(-35 566 442)">316.5</text>
<text x="612" y="445" transform="rotate(10 612 445)">316.5</text>
<text x="526" y="452" transform="rotate(70 526 452)">343.8</text>
<text x="552" y="458" transform="rotate(45 552 458)">343.8</text>
<text x="593" y="462" transform="rotate(25 593 462)">343.8</text>
<text x="649" y="423" transform="rotate(65 649 423)">316.5</text>
<text x="660" y="432" transform="rotate(75 660 432)">343.8</text>
<text x="618" y="326" transform="rotate(-70 618 326)">316.5</text>
<text x="623" y="333" transform="rotate(80 623 333)">343.8</text>
<text x="646" y="352" transform="rotate(85 646 352)">439.9</text>
<text x="640" y="378" transform="rotate(58 640 378)">316.5</text>
<text x="647" y="378" transform="rotate(58 647 378)">343.8</text>
<text x="653" y="378" transform="rotate(58 653 378)">373.1</text>
<text x="659" y="380" transform="rotate(58 659 380)">405</text>
<text x="668" y="392" transform="rotate(58 668 392)">439.9</text>
<text x="683" y="412" transform="rotate(58 683 412)">477.2</text>
<text x="678" y="390" transform="rotate(58 678 390)">518.6</text>
<text x="682" y="380" transform="rotate(62 682 380)">563.2</text>
<text x="694" y="385" transform="rotate(62 694 385)">611.5</text>
<text x="714" y="380" transform="rotate(-60 714 380)">664</text>
<text x="724" y="411" transform="rotate(75 724 411)">664</text>
<text x="737" y="400" transform="rotate(80 737 400)">721</text>
<text x="668" y="356" transform="rotate(85 668 356)">518.6</text>
<text x="665" y="404" transform="rotate(58 665 404)">405</text>
<text x="662" y="412" transform="rotate(60 662 412)">373.1</text>
<text x="672" y="317.8">316.5</text>
<text x="726" y="318.6">316.5</text>
<text x="778" y="319.4">316.5</text>
<text x="830" y="319.6">316.5</text>
<text x="880" y="320.2">316.5</text>
<text x="668" y="325.2">343.8</text>
<text x="718" y="326.2">343.8</text>
<text x="770" y="326.4">343.8</text>
<text x="820" y="326.4">343.8</text>
<text x="872" y="327.2">343.8</text>
<text x="652" y="329.4">373.1</text>
<text x="700" y="330.2">373.1</text>
<text x="752" y="332">373.1</text>
<text x="802" y="332.6">373.1</text>
<text x="852" y="332.6">373.1</text>
<text x="652" y="335.4">405</text>
<text x="703" y="336.2">405</text>
<text x="752" y="337.4">405</text>
<text x="802" y="337.6">405</text>
<text x="852" y="337.6">405</text>
<text x="682" y="338.8">439.9</text>
<text x="732" y="342.6">439.9</text>
<text x="782" y="343.4">439.9</text>
<text x="832" y="343.4">439.9</text>
<text x="677" y="343.4">477.2</text>
<text x="727" y="346.4">477.2</text>
<text x="780" y="348.6">477.2</text>
<text x="828" y="349.2">477.2</text>
<text x="716" y="350.6">518.6</text>
<text x="768" y="354.4">518.6</text>
<text x="815" y="356.2">518.6</text>
<text x="706" y="355.6">563.2</text>
<text x="752" y="359.6">563.2</text>
<text x="800" y="362.4">563.2</text>
<text x="722" y="362.4">611.5</text>
<text x="770" y="368">611.5</text>
<text x="745" y="373.8">664</text>
<text x="780" y="377">664</text>
<text x="758" y="383.6">721</text>
</g>
</g>
<path d="M172.1 303.6a1 1 0 1 0 2 0a1 1 0 1 0 -2 0M185.6 303.6a1 1 0 1 0 2 0a1 1 0 1 0 -2 0M199.1 303.6a1 1 0 1 0 2 0a1 1 0 1 0 -2 0M212.6 303.6a1 1 0 1 0 2 0a1 1 0 1 0 -2 0M226.1 303.6a1 1 0 1 0 2 0a1 1 0 1 0 -2 0M239.6 303.6a1 1 0 1 0 2 0a1 1 0 1 0 -2 0M253.1 303.6a1 1 0 1 0 2 0a1 1 0 1 0 -2 0M266.6 303.6a1 1 0 1 0 2 0a1 1 0 1 0 -2 0M280.1 303.6a1 1 0 1 0 2 0a1 1 0 1 0 -2 0M293.6 303.6a1 1 0 1 0 2 0a1 1 0 1 0 -2 0M307.0 303.6a1 1 0 1 0 2 0a1 1 0 1 0 -2 0M320.5 303.6a1 1 0 1 0 2 0a1 1 0 1 0 -2 0M334.0 303.6a1 1 0 1 0 2 0a1 1 0 1 0 -2 0M347.5 303.6a1 1 0 1 0 2 0a1 1 0 1 0 -2 0M361.0 303.6a1 1 0 1 0 2 0a1 1 0 1 0 -2 0M374.5 303.6a1 1 0 1 0 2 0a1 1 0 1 0 -2 0M388.0 303.6a1 1 0 1 0 2 0a1 1 0 1 0 -2 0M401.5 303.6a1 1 0 1 0 2 0a1 1 0 1 0 -2 0M415.0 303.6a1 1 0 1 0 2 0a1 1 0 1 0 -2 0M428.5 303.6a1 1 0 1 0 2 0a1 1 0 1 0 -2 0M442.0 303.6a1 1 0 1 0 2 0a1 1 0 1 0 -2 0M455.5 303.6a1 1 0 1 0 2 0a1 1 0 1 0 -2 0M469.0 303.6a1 1 0 1 0 2 0a1 1 0 1 0 -2 0M482.5 303.6a1 1 0 1 0 2 0a1 1 0 1 0 -2 0M496.0 303.6a1 1 0 1 0 2 0a1 1 0 1 0 -2 0M509.5 303.6a1 1 0 1 0 2 0a1 1 0 1 0 -2 0M523.0 303.6a1 1 0 1 0 2 0a1 1 0 1 0 -2 0M536.5 303.6a1 1 0 1 0 2 0a1 1 0 1 0 -2 0M550.0 303.6a1 1 0 1 0 2 0a1 1 0 1 0 -2 0M563.5 303.6a1 1 0 1 0 2 0a1 1 0 1 0 -2 0M576.9 303.6a1 1 0 1 0 2 0a1 1 0 1 0 -2 0M590.4 303.6a1 1 0 1 0 2 0a1 1 0 1 0 -2 0M603.9 303.6a1 1 0 1 0 2 0a1 1 0 1 0 -2 0M617.4 303.6a1 1 0 1 0 2 0a1 1 0 1 0 -2 0M630.9 303.6a1 1 0 1 0 2 0a1 1 0 1 0 -2 0M644.4 303.6a1 1 0 1 0 2 0a1 1 0 1 0 -2 0M657.9 303.6a1 1 0 1 0 2 0a1 1 0 1 0 -2 0M671.4 303.6a1 1 0 1 0 2 0a1 1 0 1 0 -2 0M684.9 303.6a1 1 0 1 0 2 0a1 1 0 1 0 -2 0M698.4 303.6a1 1 0 1 0 2 0a1 1 0 1 0 -2 0M711.9 303.6a1 1 0 1 0 2 0a1 1 0 1 0 -2 0M725.4 303.6a1 1 0 1 0 2 0a1 1 0 1 0 -2 0M738.9 303.6a1 1 0 1 0 2 0a1 1 0 1 0 -2 0M752.4 303.6a1 1 0 1 0 2 0a1 1 0 1 0 -2 0M765.9 303.6a1 1 0 1 0 2 0a1 1 0 1 0 -2 0M779.4 303.6a1 1 0 1 0 2 0a1 1 0 1 0 -2 0M792.9 303.6a1 1 0 1 0 2 0a1 1 0 1 0 -2 0M806.4 303.6a1 1 0 1 0 2 0a1 1 0 1 0 -2 0M819.9 303.6a1 1 0 1 0 2 0a1 1 0 1 0 -2 0M833.4 303.6a1 1 0 1 0 2 0a1 1 0 1 0 -2 0M846.9 303.6a1 1 0 1 0 2 0a1 1 0 1 0 -2 0M860.3 303.6a1 1 0 1 0 2 0a1 1 0 1 0 -2 0M873.8 303.6a1 1 0 1 0 2 0a1 1 0 1 0 -2 0M887.3 303.6a1 1 0 1 0 2 0a1 1 0 1 0 -2 0M900.8 303.6a1 1 0 1 0 2 0a1 1 0 1 0 -2 0M914.3 303.6a1 1 0 1 0 2 0a1 1 0 1 0 -2 0M927.8 303.6a1 1 0 1 0 2 0a1 1 0 1 0 -2 0M941.3 303.6a1 1 0 1 0 2 0a1 1 0 1 0 -2 0M954.8 303.6a1 1 0 1 0 2 0a1 1 0 1 0 -2 0M968.3 303.6a1 1 0 1 0 2 0a1 1 0 1 0 -2 0" fill="#111"/>
<path d="M151.4 299H989V489.8" fill="none" stroke="#a8a8a8" stroke-width=".8"/>
<path d="M151.4 298.7V489.8H989" fill="none" stroke="#262626" stroke-width="1.2"/>
<path d="M151.4 303.90h-1.6M151.4 308.55h-0.9M151.4 313.20h-0.9M151.4 317.86h-0.9M151.4 322.51h-0.9M151.4 327.16h-1.6M151.4 331.81h-0.9M151.4 336.46h-0.9M151.4 341.12h-0.9M151.4 345.77h-0.9M151.4 350.42h-1.6M151.4 355.07h-0.9M151.4 359.72h-0.9M151.4 364.38h-0.9M151.4 369.03h-0.9M151.4 373.68h-1.6M151.4 378.33h-0.9M151.4 382.98h-0.9M151.4 387.64h-0.9M151.4 392.29h-0.9M151.4 396.94h-1.6M151.4 401.59h-0.9M151.4 406.24h-0.9M151.4 410.90h-0.9M151.4 415.55h-0.9M151.4 420.20h-1.6M151.4 424.85h-0.9M151.4 429.50h-0.9M151.4 434.16h-0.9M151.4 438.81h-0.9M151.4 443.46h-1.6M151.4 448.11h-0.9M151.4 452.76h-0.9M151.4 457.42h-0.9M151.4 462.07h-0.9M151.4 466.72h-1.6M151.4 471.37h-0.9M151.4 476.02h-0.9M151.4 480.68h-0.9M151.4 485.33h-0.9M151.4 489.98h-1.6M159.10 489.8v1M172.60 489.8v1.8M186.09 489.8v1M199.59 489.8v1M213.08 489.8v1M226.58 489.8v1M240.07 489.8v1M253.57 489.8v1M267.06 489.8v1M280.56 489.8v1M294.06 489.8v1M307.55 489.8v1.8M321.04 489.8v1M334.54 489.8v1M348.03 489.8v1M361.53 489.8v1M375.02 489.8v1M388.52 489.8v1M402.01 489.8v1M415.51 489.8v1M429.00 489.8v1M442.50 489.8v1.8M456.00 489.8v1M469.49 489.8v1M482.99 489.8v1M496.48 489.8v1M509.98 489.8v1M523.47 489.8v1M536.96 489.8v1M550.46 489.8v1M563.95 489.8v1M577.45 489.8v1.8M590.94 489.8v1M604.44 489.8v1M617.93 489.8v1M631.43 489.8v1M644.92 489.8v1M658.42 489.8v1M671.91 489.8v1M685.41 489.8v1M698.90 489.8v1M712.40 489.8v1.8M725.89 489.8v1M739.39 489.8v1M752.88 489.8v1M766.38 489.8v1M779.88 489.8v1M793.37 489.8v1M806.87 489.8v1M820.36 489.8v1M833.86 489.8v1M847.35 489.8v1.8M860.85 489.8v1M874.34 489.8v1M887.84 489.8v1M901.33 489.8v1M914.82 489.8v1M928.32 489.8v1M941.81 489.8v1M955.31 489.8v1M968.80 489.8v1M982.30 489.8v1.8" stroke="#444" stroke-width=".45" fill="none"/>
<g font-size="4.6" fill="#000">
<text transform="translate(148 305.3)" text-anchor="end" font-size="3.95">0.0</text>
<text transform="translate(148 328.56)" text-anchor="end" font-size="3.95">-5.0</text>
<text transform="translate(148 351.82)" text-anchor="end" font-size="3.95">-10.0</text>
<text transform="translate(148 375.08)" text-anchor="end" font-size="3.95">-15.0</text>
<text transform="translate(148 398.34)" text-anchor="end" font-size="3.95">-20.0</text>
<text transform="translate(148 421.6)" text-anchor="end" font-size="3.95">-25.0</text>
<text transform="translate(148 444.86)" text-anchor="end" font-size="3.95">-30.0</text>
<text transform="translate(148 468.12)" text-anchor="end" font-size="3.95">-35.0</text>
<text transform="translate(148 491.38)" text-anchor="end" font-size="3.95">-40.0</text>
<text transform="translate(172.6 497)" text-anchor="middle" font-size="3.95">0</text>
<text transform="translate(307.55 497)" text-anchor="middle" font-size="3.95">50</text>
<text transform="translate(442.5 497)" text-anchor="middle" font-size="3.95">100</text>
<text transform="translate(577.45 497)" text-anchor="middle" font-size="3.95">150</text>
<text transform="translate(712.4 497)" text-anchor="middle" font-size="3.95">200</text>
<text transform="translate(847.35 497)" text-anchor="middle" font-size="3.95">250</text>
<text transform="translate(982.3 497)" text-anchor="middle" font-size="3.95">300</text>
<text transform="translate(563 296.1)" text-anchor="middle" font-size="4.35">Measured apparent resistivity pseudosection</text>
<text transform="translate(571 502.4)" text-anchor="middle" font-size="4.35">Distance [m]</text>
<text transform="translate(134.4 394.8) rotate(-90)" text-anchor="middle" font-size="4.35">Elevation [m]</text>
</g>
</svg>
</div></body></html>
